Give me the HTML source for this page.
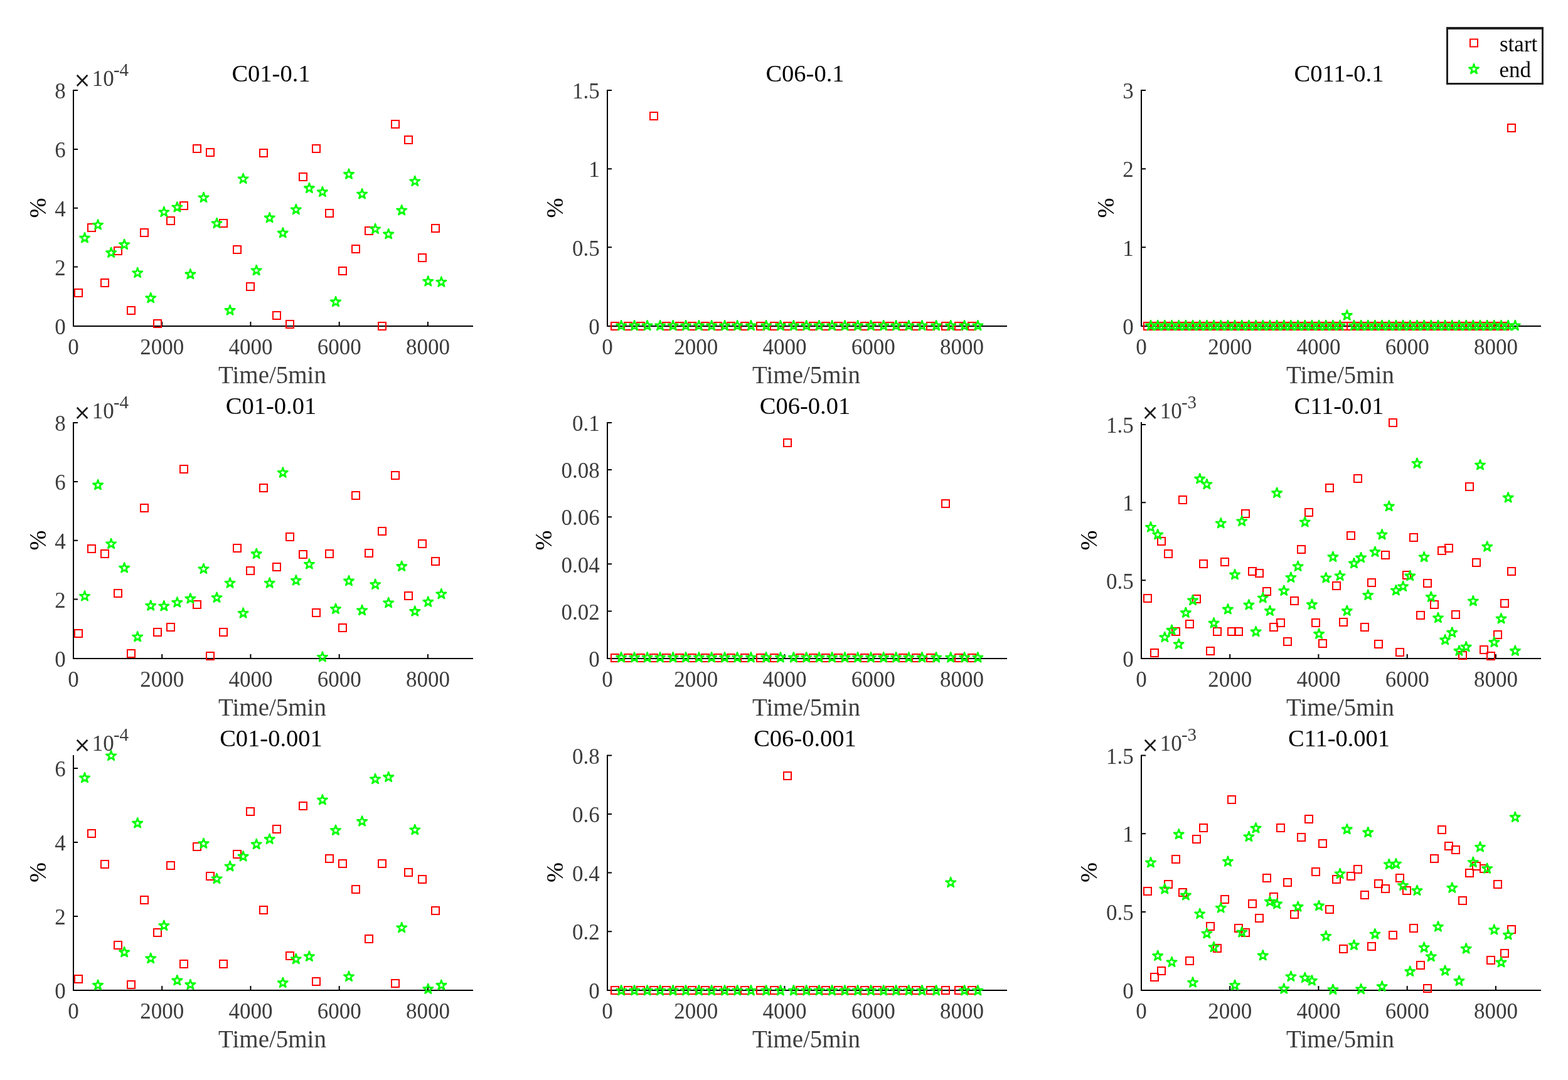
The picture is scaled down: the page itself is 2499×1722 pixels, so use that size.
<!DOCTYPE html>
<html><head><meta charset="utf-8"><title>figure</title>
<style>
html,body{margin:0;padding:0;background:#fff;}
body{width:2499px;height:1722px;overflow:hidden;}
svg{display:block;}
text{font-family:"Liberation Serif", "Times New Roman", serif;}
.tl{font-size:35px;fill:#3c3c3c;}
.ti{font-size:38.5px;fill:#000;}
.xl{font-size:39px;fill:#3c3c3c;}
.yl{font-size:38.5px;fill:#000;}
.lg{font-size:35px;fill:#000;}
.tx{font-family:'DejaVu Sans',sans-serif;font-size:33px;fill:#1a1a1a;}
.sq{fill:none;stroke:#f00;stroke-width:2;}
.st{fill:none;stroke:#0f0;stroke-width:2.6;stroke-linejoin:round;}
</style></head>
<body>
<svg width="2499" height="1722" viewBox="0 0 2499 1722">
<rect width="2499" height="1722" fill="#fff"/>
<path d="M117,143 V521 M116,520 H754" stroke="#000" stroke-width="2" fill="none"/>
<text x="116.9" y="564.5" text-anchor="middle" class="tl">0</text>
<text x="258.2" y="564.5" text-anchor="middle" class="tl">2000</text>
<text x="399.4" y="564.5" text-anchor="middle" class="tl">4000</text>
<text x="540.7" y="564.5" text-anchor="middle" class="tl">6000</text>
<text x="681.9" y="564.5" text-anchor="middle" class="tl">8000</text>
<text x="104.8" y="532.7" text-anchor="end" class="tl">0</text>
<text x="104.8" y="438.8" text-anchor="end" class="tl">2</text>
<text x="104.8" y="344.9" text-anchor="end" class="tl">4</text>
<text x="104.8" y="251.1" text-anchor="end" class="tl">6</text>
<text x="104.8" y="157.2" text-anchor="end" class="tl">8</text>
<path d="M258.2,520 V513 M399.4,520 V513 M540.7,520 V513 M681.9,520 V513 M116,425.6 H124 M116,331.8 H124 M116,237.9 H124 M116,144.0 H124" stroke="#000" stroke-width="2" fill="none"/>
<text x="117.3" y="138.9" class="tx">×</text>
<text x="146.8" y="137.2" class="tl">10</text>
<text x="180.9" y="121" class="tl" style="font-size:29px">-4</text>
<text x="432" y="130.3" text-anchor="middle" class="ti">C01-0.1</text>
<text x="434" y="611" text-anchor="middle" class="xl">Time/5min</text>
<text transform="translate(72.5,331.5) rotate(-90)" text-anchor="middle" class="yl">%</text>
<rect x="119" y="461" width="12" height="12" class="sq"/>
<rect x="140" y="357" width="12" height="12" class="sq"/>
<rect x="161" y="445" width="12" height="12" class="sq"/>
<rect x="182" y="394" width="12" height="12" class="sq"/>
<rect x="203" y="489" width="12" height="12" class="sq"/>
<rect x="224" y="365" width="12" height="12" class="sq"/>
<rect x="245" y="510" width="12" height="12" class="sq"/>
<rect x="266" y="346" width="12" height="12" class="sq"/>
<rect x="287" y="322" width="12" height="12" class="sq"/>
<rect x="308" y="231" width="12" height="12" class="sq"/>
<rect x="329" y="237" width="12" height="12" class="sq"/>
<rect x="350" y="350" width="12" height="12" class="sq"/>
<rect x="372" y="392" width="12" height="12" class="sq"/>
<rect x="393" y="451" width="12" height="12" class="sq"/>
<rect x="414" y="238" width="12" height="12" class="sq"/>
<rect x="435" y="497" width="12" height="12" class="sq"/>
<rect x="456" y="511" width="12" height="12" class="sq"/>
<rect x="477" y="276" width="12" height="12" class="sq"/>
<rect x="498" y="231" width="12" height="12" class="sq"/>
<rect x="519" y="334" width="12" height="12" class="sq"/>
<rect x="540" y="426" width="12" height="12" class="sq"/>
<rect x="561" y="391" width="12" height="12" class="sq"/>
<rect x="582" y="362" width="12" height="12" class="sq"/>
<rect x="603" y="514" width="12" height="12" class="sq"/>
<rect x="624" y="192" width="12" height="12" class="sq"/>
<rect x="645" y="217" width="12" height="12" class="sq"/>
<rect x="667" y="405" width="12" height="12" class="sq"/>
<rect x="688" y="358" width="12" height="12" class="sq"/>
<polygon points="135.0,371.4 136.8,377.0 142.7,377.0 137.9,380.5 139.8,386.1 135.0,382.6 130.2,386.1 132.1,380.5 127.3,377.0 133.2,377.0" class="st"/>
<polygon points="156.1,350.6 157.9,356.2 163.8,356.2 159.0,359.7 160.8,365.3 156.1,361.8 151.3,365.3 153.1,359.7 148.3,356.2 154.2,356.2" class="st"/>
<polygon points="177.1,395.0 178.9,400.6 184.8,400.6 180.0,404.1 181.9,409.7 177.1,406.2 172.3,409.7 174.2,404.1 169.4,400.6 175.3,400.6" class="st"/>
<polygon points="198.2,382.0 200.0,387.6 205.9,387.6 201.1,391.1 202.9,396.7 198.2,393.2 193.4,396.7 195.2,391.1 190.4,387.6 196.3,387.6" class="st"/>
<polygon points="219.2,427.1 221.0,432.7 226.9,432.7 222.1,436.2 224.0,441.8 219.2,438.3 214.4,441.8 216.3,436.2 211.5,432.7 217.4,432.7" class="st"/>
<polygon points="240.2,467.2 242.1,472.8 248.0,472.8 243.2,476.3 245.0,481.9 240.2,478.4 235.5,481.9 237.3,476.3 232.5,472.8 238.4,472.8" class="st"/>
<polygon points="261.3,330.1 263.1,335.7 269.0,335.7 264.2,339.2 266.1,344.8 261.3,341.3 256.5,344.8 258.4,339.2 253.6,335.7 259.5,335.7" class="st"/>
<polygon points="282.4,322.4 284.2,328.0 290.1,328.0 285.3,331.5 287.1,337.1 282.4,333.6 277.6,337.1 279.4,331.5 274.6,328.0 280.5,328.0" class="st"/>
<polygon points="303.4,429.3 305.2,434.9 311.1,434.9 306.3,438.4 308.2,444.0 303.4,440.5 298.6,444.0 300.5,438.4 295.7,434.9 301.6,434.9" class="st"/>
<polygon points="324.5,307.1 326.3,312.7 332.2,312.7 327.4,316.2 329.2,321.8 324.5,318.3 319.7,321.8 321.5,316.2 316.7,312.7 322.6,312.7" class="st"/>
<polygon points="345.5,348.1 347.3,353.7 353.2,353.7 348.4,357.2 350.3,362.8 345.5,359.3 340.7,362.8 342.6,357.2 337.8,353.7 343.7,353.7" class="st"/>
<polygon points="366.6,486.8 368.4,492.4 374.3,492.4 369.5,495.9 371.3,501.5 366.6,498.0 361.8,501.5 363.6,495.9 358.8,492.4 364.7,492.4" class="st"/>
<polygon points="387.6,277.1 389.4,282.7 395.3,282.7 390.5,286.2 392.4,291.8 387.6,288.3 382.8,291.8 384.7,286.2 379.9,282.7 385.8,282.7" class="st"/>
<polygon points="408.7,423.2 410.5,428.8 416.4,428.8 411.6,432.3 413.4,437.9 408.7,434.4 403.9,437.9 405.7,432.3 400.9,428.8 406.8,428.8" class="st"/>
<polygon points="429.7,339.3 431.5,344.9 437.4,344.9 432.6,348.4 434.5,354.0 429.7,350.5 424.9,354.0 426.8,348.4 422.0,344.9 427.9,344.9" class="st"/>
<polygon points="450.8,363.5 452.6,369.1 458.5,369.1 453.7,372.6 455.5,378.2 450.8,374.7 446.0,378.2 447.8,372.6 443.0,369.1 448.9,369.1" class="st"/>
<polygon points="471.8,326.2 473.6,331.8 479.5,331.8 474.7,335.3 476.6,340.9 471.8,337.4 467.0,340.9 468.9,335.3 464.1,331.8 470.0,331.8" class="st"/>
<polygon points="492.9,292.0 494.7,297.6 500.6,297.6 495.8,301.1 497.6,306.7 492.9,303.2 488.1,306.7 489.9,301.1 485.1,297.6 491.0,297.6" class="st"/>
<polygon points="513.9,298.0 515.7,303.6 521.6,303.6 516.8,307.1 518.7,312.7 513.9,309.2 509.1,312.7 511.0,307.1 506.2,303.6 512.1,303.6" class="st"/>
<polygon points="535.0,473.3 536.8,478.9 542.7,478.9 537.9,482.4 539.7,488.0 535.0,484.5 530.2,488.0 532.0,482.4 527.2,478.9 533.1,478.9" class="st"/>
<polygon points="556.0,269.8 557.8,275.4 563.7,275.4 558.9,278.9 560.8,284.5 556.0,281.0 551.2,284.5 553.1,278.9 548.3,275.4 554.2,275.4" class="st"/>
<polygon points="577.1,301.4 578.9,307.0 584.8,307.0 580.0,310.5 581.8,316.1 577.1,312.6 572.3,316.1 574.1,310.5 569.3,307.0 575.2,307.0" class="st"/>
<polygon points="598.1,357.1 599.9,362.7 605.8,362.7 601.0,366.2 602.9,371.8 598.1,368.3 593.3,371.8 595.2,366.2 590.4,362.7 596.3,362.7" class="st"/>
<polygon points="619.2,365.3 621.0,370.9 626.9,370.9 622.1,374.4 623.9,380.0 619.2,376.5 614.4,380.0 616.2,374.4 611.4,370.9 617.3,370.9" class="st"/>
<polygon points="640.2,327.4 642.0,333.0 647.9,333.0 643.1,336.5 645.0,342.1 640.2,338.6 635.4,342.1 637.3,336.5 632.5,333.0 638.4,333.0" class="st"/>
<polygon points="661.2,281.1 663.1,286.7 669.0,286.7 664.2,290.2 666.0,295.8 661.2,292.3 656.5,295.8 658.3,290.2 653.5,286.7 659.4,286.7" class="st"/>
<polygon points="682.3,440.6 684.1,446.2 690.0,446.2 685.2,449.7 687.1,455.3 682.3,451.8 677.5,455.3 679.4,449.7 674.6,446.2 680.5,446.2" class="st"/>
<polygon points="703.4,441.7 705.2,447.3 711.1,447.3 706.3,450.8 708.1,456.4 703.4,452.9 698.6,456.4 700.4,450.8 695.6,447.3 701.5,447.3" class="st"/>
<path d="M968,143 V521 M967,520 H1605" stroke="#000" stroke-width="2" fill="none"/>
<text x="967.9" y="564.5" text-anchor="middle" class="tl">0</text>
<text x="1109.2" y="564.5" text-anchor="middle" class="tl">2000</text>
<text x="1250.4" y="564.5" text-anchor="middle" class="tl">4000</text>
<text x="1391.7" y="564.5" text-anchor="middle" class="tl">6000</text>
<text x="1532.9" y="564.5" text-anchor="middle" class="tl">8000</text>
<text x="955.8" y="532.7" text-anchor="end" class="tl">0</text>
<text x="955.8" y="407.5" text-anchor="end" class="tl">0.5</text>
<text x="955.8" y="282.4" text-anchor="end" class="tl">1</text>
<text x="955.8" y="157.2" text-anchor="end" class="tl">1.5</text>
<path d="M1109.2,520 V513 M1250.4,520 V513 M1391.7,520 V513 M1532.9,520 V513 M967,394.3 H975 M967,269.2 H975 M967,144.0 H975" stroke="#000" stroke-width="2" fill="none"/>
<text x="1283" y="130.3" text-anchor="middle" class="ti">C06-0.1</text>
<text x="1285" y="611" text-anchor="middle" class="xl">Time/5min</text>
<text transform="translate(896.5,331.5) rotate(-90)" text-anchor="middle" class="yl">%</text>
<rect x="974" y="514" width="12" height="12" class="sq"/>
<rect x="995" y="514" width="12" height="12" class="sq"/>
<rect x="1015" y="514" width="12" height="12" class="sq"/>
<rect x="1036" y="179" width="12" height="12" class="sq"/>
<rect x="1056" y="514" width="12" height="12" class="sq"/>
<rect x="1077" y="514" width="12" height="12" class="sq"/>
<rect x="1097" y="514" width="12" height="12" class="sq"/>
<rect x="1118" y="514" width="12" height="12" class="sq"/>
<rect x="1138" y="514" width="12" height="12" class="sq"/>
<rect x="1159" y="514" width="12" height="12" class="sq"/>
<rect x="1181" y="514" width="12" height="12" class="sq"/>
<rect x="1206" y="514" width="12" height="12" class="sq"/>
<rect x="1228" y="514" width="12" height="12" class="sq"/>
<rect x="1249" y="514" width="12" height="12" class="sq"/>
<rect x="1269" y="514" width="12" height="12" class="sq"/>
<rect x="1290" y="514" width="12" height="12" class="sq"/>
<rect x="1310" y="514" width="12" height="12" class="sq"/>
<rect x="1330" y="514" width="12" height="12" class="sq"/>
<rect x="1351" y="514" width="12" height="12" class="sq"/>
<rect x="1372" y="514" width="12" height="12" class="sq"/>
<rect x="1392" y="514" width="12" height="12" class="sq"/>
<rect x="1412" y="514" width="12" height="12" class="sq"/>
<rect x="1433" y="514" width="12" height="12" class="sq"/>
<rect x="1454" y="514" width="12" height="12" class="sq"/>
<rect x="1477" y="514" width="12" height="12" class="sq"/>
<rect x="1501" y="514" width="12" height="12" class="sq"/>
<rect x="1522" y="514" width="12" height="12" class="sq"/>
<rect x="1543" y="514" width="12" height="12" class="sq"/>
<polygon points="990.1,511.3 991.9,516.9 997.8,516.9 993.0,520.4 994.9,526.0 990.1,522.5 985.3,526.0 987.2,520.4 982.4,516.9 988.3,516.9" class="st"/>
<polygon points="1011.1,511.3 1012.9,516.9 1018.8,516.9 1014.0,520.4 1015.9,526.0 1011.1,522.5 1006.3,526.0 1008.2,520.4 1003.4,516.9 1009.3,516.9" class="st"/>
<polygon points="1031.6,511.3 1033.4,516.9 1039.3,516.9 1034.5,520.4 1036.4,526.0 1031.6,522.5 1026.8,526.0 1028.7,520.4 1023.9,516.9 1029.8,516.9" class="st"/>
<polygon points="1052.1,511.3 1053.9,516.9 1059.8,516.9 1055.0,520.4 1056.9,526.0 1052.1,522.5 1047.3,526.0 1049.2,520.4 1044.4,516.9 1050.3,516.9" class="st"/>
<polygon points="1072.6,511.3 1074.4,516.9 1080.3,516.9 1075.5,520.4 1077.4,526.0 1072.6,522.5 1067.8,526.0 1069.7,520.4 1064.9,516.9 1070.8,516.9" class="st"/>
<polygon points="1093.0,511.3 1094.8,516.9 1100.7,516.9 1095.9,520.4 1097.8,526.0 1093.0,522.5 1088.2,526.0 1090.1,520.4 1085.3,516.9 1091.2,516.9" class="st"/>
<polygon points="1113.9,511.3 1115.7,516.9 1121.6,516.9 1116.8,520.4 1118.7,526.0 1113.9,522.5 1109.1,526.0 1111.0,520.4 1106.2,516.9 1112.1,516.9" class="st"/>
<polygon points="1134.1,511.3 1135.9,516.9 1141.8,516.9 1137.0,520.4 1138.9,526.0 1134.1,522.5 1129.3,526.0 1131.2,520.4 1126.4,516.9 1132.3,516.9" class="st"/>
<polygon points="1155.0,511.3 1156.8,516.9 1162.7,516.9 1157.9,520.4 1159.8,526.0 1155.0,522.5 1150.2,526.0 1152.1,520.4 1147.3,516.9 1153.2,516.9" class="st"/>
<polygon points="1175.1,511.3 1176.9,516.9 1182.8,516.9 1178.0,520.4 1179.9,526.0 1175.1,522.5 1170.3,526.0 1172.2,520.4 1167.4,516.9 1173.3,516.9" class="st"/>
<polygon points="1196.9,511.3 1198.7,516.9 1204.6,516.9 1199.8,520.4 1201.7,526.0 1196.9,522.5 1192.1,526.0 1194.0,520.4 1189.2,516.9 1195.1,516.9" class="st"/>
<polygon points="1221.1,511.3 1222.9,516.9 1228.8,516.9 1224.0,520.4 1225.9,526.0 1221.1,522.5 1216.3,526.0 1218.2,520.4 1213.4,516.9 1219.3,516.9" class="st"/>
<polygon points="1243.9,511.3 1245.7,516.9 1251.6,516.9 1246.8,520.4 1248.7,526.0 1243.9,522.5 1239.1,526.0 1241.0,520.4 1236.2,516.9 1242.1,516.9" class="st"/>
<polygon points="1264.8,511.3 1266.6,516.9 1272.5,516.9 1267.7,520.4 1269.6,526.0 1264.8,522.5 1260.0,526.0 1261.9,520.4 1257.1,516.9 1263.0,516.9" class="st"/>
<polygon points="1285.2,511.3 1287.0,516.9 1292.9,516.9 1288.1,520.4 1290.0,526.0 1285.2,522.5 1280.4,526.0 1282.3,520.4 1277.5,516.9 1283.4,516.9" class="st"/>
<polygon points="1305.5,511.3 1307.3,516.9 1313.2,516.9 1308.4,520.4 1310.3,526.0 1305.5,522.5 1300.7,526.0 1302.6,520.4 1297.8,516.9 1303.7,516.9" class="st"/>
<polygon points="1326.1,511.3 1327.9,516.9 1333.8,516.9 1329.0,520.4 1330.9,526.0 1326.1,522.5 1321.3,526.0 1323.2,520.4 1318.4,516.9 1324.3,516.9" class="st"/>
<polygon points="1346.5,511.3 1348.3,516.9 1354.2,516.9 1349.4,520.4 1351.3,526.0 1346.5,522.5 1341.7,526.0 1343.6,520.4 1338.8,516.9 1344.7,516.9" class="st"/>
<polygon points="1367.0,511.3 1368.8,516.9 1374.7,516.9 1369.9,520.4 1371.8,526.0 1367.0,522.5 1362.2,526.0 1364.1,520.4 1359.3,516.9 1365.2,516.9" class="st"/>
<polygon points="1388.0,511.3 1389.8,516.9 1395.7,516.9 1390.9,520.4 1392.8,526.0 1388.0,522.5 1383.2,526.0 1385.1,520.4 1380.3,516.9 1386.2,516.9" class="st"/>
<polygon points="1408.2,511.3 1410.0,516.9 1415.9,516.9 1411.1,520.4 1413.0,526.0 1408.2,522.5 1403.4,526.0 1405.3,520.4 1400.5,516.9 1406.4,516.9" class="st"/>
<polygon points="1428.1,511.3 1429.9,516.9 1435.8,516.9 1431.0,520.4 1432.9,526.0 1428.1,522.5 1423.3,526.0 1425.2,520.4 1420.4,516.9 1426.3,516.9" class="st"/>
<polygon points="1448.4,511.3 1450.2,516.9 1456.1,516.9 1451.3,520.4 1453.2,526.0 1448.4,522.5 1443.6,526.0 1445.5,520.4 1440.7,516.9 1446.6,516.9" class="st"/>
<polygon points="1469.5,511.3 1471.3,516.9 1477.2,516.9 1472.4,520.4 1474.3,526.0 1469.5,522.5 1464.7,526.0 1466.6,520.4 1461.8,516.9 1467.7,516.9" class="st"/>
<polygon points="1492.1,511.3 1493.9,516.9 1499.8,516.9 1495.0,520.4 1496.9,526.0 1492.1,522.5 1487.3,526.0 1489.2,520.4 1484.4,516.9 1490.3,516.9" class="st"/>
<polygon points="1515.2,511.3 1517.0,516.9 1522.9,516.9 1518.1,520.4 1520.0,526.0 1515.2,522.5 1510.4,526.0 1512.3,520.4 1507.5,516.9 1513.4,516.9" class="st"/>
<polygon points="1537.1,511.3 1538.9,516.9 1544.8,516.9 1540.0,520.4 1541.9,526.0 1537.1,522.5 1532.3,526.0 1534.2,520.4 1529.4,516.9 1535.3,516.9" class="st"/>
<polygon points="1558.4,511.3 1560.2,516.9 1566.1,516.9 1561.3,520.4 1563.2,526.0 1558.4,522.5 1553.6,526.0 1555.5,520.4 1550.7,516.9 1556.6,516.9" class="st"/>
<path d="M1819,143 V521 M1818,520 H2456" stroke="#000" stroke-width="2" fill="none"/>
<text x="1818.9" y="564.5" text-anchor="middle" class="tl">0</text>
<text x="1960.2" y="564.5" text-anchor="middle" class="tl">2000</text>
<text x="2101.4" y="564.5" text-anchor="middle" class="tl">4000</text>
<text x="2242.7" y="564.5" text-anchor="middle" class="tl">6000</text>
<text x="2383.9" y="564.5" text-anchor="middle" class="tl">8000</text>
<text x="1806.8" y="532.7" text-anchor="end" class="tl">0</text>
<text x="1806.8" y="407.5" text-anchor="end" class="tl">1</text>
<text x="1806.8" y="282.4" text-anchor="end" class="tl">2</text>
<text x="1806.8" y="157.2" text-anchor="end" class="tl">3</text>
<path d="M1960.2,520 V513 M2101.4,520 V513 M2242.7,520 V513 M2383.9,520 V513 M1818,394.3 H1826 M1818,269.2 H1826 M1818,144.0 H1826" stroke="#000" stroke-width="2" fill="none"/>
<text x="2134" y="130.3" text-anchor="middle" class="ti">C011-0.1</text>
<text x="2136" y="611" text-anchor="middle" class="xl">Time/5min</text>
<text transform="translate(1774.5,331.5) rotate(-90)" text-anchor="middle" class="yl">%</text>
<rect x="1823" y="514" width="12" height="12" class="sq"/>
<rect x="1834" y="514" width="12" height="12" class="sq"/>
<rect x="1845" y="514" width="12" height="12" class="sq"/>
<rect x="1856" y="514" width="12" height="12" class="sq"/>
<rect x="1868" y="514" width="12" height="12" class="sq"/>
<rect x="1879" y="514" width="12" height="12" class="sq"/>
<rect x="1890" y="514" width="12" height="12" class="sq"/>
<rect x="1901" y="514" width="12" height="12" class="sq"/>
<rect x="1912" y="514" width="12" height="12" class="sq"/>
<rect x="1923" y="514" width="12" height="12" class="sq"/>
<rect x="1934" y="514" width="12" height="12" class="sq"/>
<rect x="1946" y="514" width="12" height="12" class="sq"/>
<rect x="1957" y="514" width="12" height="12" class="sq"/>
<rect x="1968" y="514" width="12" height="12" class="sq"/>
<rect x="1979" y="514" width="12" height="12" class="sq"/>
<rect x="1990" y="514" width="12" height="12" class="sq"/>
<rect x="2001" y="514" width="12" height="12" class="sq"/>
<rect x="2013" y="514" width="12" height="12" class="sq"/>
<rect x="2024" y="514" width="12" height="12" class="sq"/>
<rect x="2035" y="514" width="12" height="12" class="sq"/>
<rect x="2046" y="514" width="12" height="12" class="sq"/>
<rect x="2057" y="514" width="12" height="12" class="sq"/>
<rect x="2068" y="514" width="12" height="12" class="sq"/>
<rect x="2080" y="514" width="12" height="12" class="sq"/>
<rect x="2091" y="514" width="12" height="12" class="sq"/>
<rect x="2102" y="514" width="12" height="12" class="sq"/>
<rect x="2113" y="514" width="12" height="12" class="sq"/>
<rect x="2124" y="514" width="12" height="12" class="sq"/>
<rect x="2135" y="514" width="12" height="12" class="sq"/>
<rect x="2147" y="514" width="12" height="12" class="sq"/>
<rect x="2158" y="514" width="12" height="12" class="sq"/>
<rect x="2169" y="514" width="12" height="12" class="sq"/>
<rect x="2180" y="514" width="12" height="12" class="sq"/>
<rect x="2191" y="514" width="12" height="12" class="sq"/>
<rect x="2202" y="514" width="12" height="12" class="sq"/>
<rect x="2214" y="514" width="12" height="12" class="sq"/>
<rect x="2225" y="514" width="12" height="12" class="sq"/>
<rect x="2236" y="514" width="12" height="12" class="sq"/>
<rect x="2247" y="514" width="12" height="12" class="sq"/>
<rect x="2258" y="514" width="12" height="12" class="sq"/>
<rect x="2269" y="514" width="12" height="12" class="sq"/>
<rect x="2280" y="514" width="12" height="12" class="sq"/>
<rect x="2292" y="514" width="12" height="12" class="sq"/>
<rect x="2303" y="514" width="12" height="12" class="sq"/>
<rect x="2314" y="514" width="12" height="12" class="sq"/>
<rect x="2325" y="514" width="12" height="12" class="sq"/>
<rect x="2336" y="514" width="12" height="12" class="sq"/>
<rect x="2347" y="514" width="12" height="12" class="sq"/>
<rect x="2359" y="514" width="12" height="12" class="sq"/>
<rect x="2370" y="514" width="12" height="12" class="sq"/>
<rect x="2381" y="514" width="12" height="12" class="sq"/>
<rect x="2392" y="514" width="12" height="12" class="sq"/>
<rect x="2403" y="198" width="12" height="12" class="sq"/>
<polygon points="1834.0,511.2 1835.8,516.8 1841.7,516.8 1836.9,520.3 1838.8,525.9 1834.0,522.4 1829.2,525.9 1831.1,520.3 1826.3,516.8 1832.2,516.8" class="st"/>
<polygon points="1845.2,511.2 1847.0,516.8 1852.9,516.8 1848.1,520.3 1849.9,525.9 1845.2,522.4 1840.4,525.9 1842.2,520.3 1837.5,516.8 1843.4,516.8" class="st"/>
<polygon points="1856.3,511.2 1858.2,516.8 1864.0,516.8 1859.3,520.3 1861.1,525.9 1856.3,522.4 1851.6,525.9 1853.4,520.3 1848.6,516.8 1854.5,516.8" class="st"/>
<polygon points="1867.5,511.2 1869.3,516.8 1875.2,516.8 1870.5,520.3 1872.3,525.9 1867.5,522.4 1862.7,525.9 1864.6,520.3 1859.8,516.8 1865.7,516.8" class="st"/>
<polygon points="1878.7,511.2 1880.5,516.8 1886.4,516.8 1881.6,520.3 1883.4,525.9 1878.7,522.4 1873.9,525.9 1875.7,520.3 1871.0,516.8 1876.9,516.8" class="st"/>
<polygon points="1889.8,511.2 1891.7,516.8 1897.6,516.8 1892.8,520.3 1894.6,525.9 1889.8,522.4 1885.1,525.9 1886.9,520.3 1882.1,516.8 1888.0,516.8" class="st"/>
<polygon points="1901.0,511.2 1902.8,516.8 1908.7,516.8 1904.0,520.3 1905.8,525.9 1901.0,522.4 1896.3,525.9 1898.1,520.3 1893.3,516.8 1899.2,516.8" class="st"/>
<polygon points="1912.2,511.2 1914.0,516.8 1919.9,516.8 1915.1,520.3 1917.0,525.9 1912.2,522.4 1907.4,525.9 1909.2,520.3 1904.5,516.8 1910.4,516.8" class="st"/>
<polygon points="1923.4,511.2 1925.2,516.8 1931.1,516.8 1926.3,520.3 1928.1,525.9 1923.4,522.4 1918.6,525.9 1920.4,520.3 1915.7,516.8 1921.5,516.8" class="st"/>
<polygon points="1934.5,511.2 1936.3,516.8 1942.2,516.8 1937.5,520.3 1939.3,525.9 1934.5,522.4 1929.8,525.9 1931.6,520.3 1926.8,516.8 1932.7,516.8" class="st"/>
<polygon points="1945.7,511.2 1947.5,516.8 1953.4,516.8 1948.6,520.3 1950.5,525.9 1945.7,522.4 1940.9,525.9 1942.8,520.3 1938.0,516.8 1943.9,516.8" class="st"/>
<polygon points="1956.9,511.2 1958.7,516.8 1964.6,516.8 1959.8,520.3 1961.6,525.9 1956.9,522.4 1952.1,525.9 1953.9,520.3 1949.2,516.8 1955.1,516.8" class="st"/>
<polygon points="1968.0,511.2 1969.9,516.8 1975.7,516.8 1971.0,520.3 1972.8,525.9 1968.0,522.4 1963.3,525.9 1965.1,520.3 1960.3,516.8 1966.2,516.8" class="st"/>
<polygon points="1979.2,511.2 1981.0,516.8 1986.9,516.8 1982.2,520.3 1984.0,525.9 1979.2,522.4 1974.4,525.9 1976.3,520.3 1971.5,516.8 1977.4,516.8" class="st"/>
<polygon points="1990.4,511.2 1992.2,516.8 1998.1,516.8 1993.3,520.3 1995.1,525.9 1990.4,522.4 1985.6,525.9 1987.4,520.3 1982.7,516.8 1988.6,516.8" class="st"/>
<polygon points="2001.5,511.2 2003.4,516.8 2009.3,516.8 2004.5,520.3 2006.3,525.9 2001.5,522.4 1996.8,525.9 1998.6,520.3 1993.8,516.8 1999.7,516.8" class="st"/>
<polygon points="2012.7,511.2 2014.5,516.8 2020.4,516.8 2015.7,520.3 2017.5,525.9 2012.7,522.4 2008.0,525.9 2009.8,520.3 2005.0,516.8 2010.9,516.8" class="st"/>
<polygon points="2023.9,511.2 2025.7,516.8 2031.6,516.8 2026.8,520.3 2028.7,525.9 2023.9,522.4 2019.1,525.9 2020.9,520.3 2016.2,516.8 2022.1,516.8" class="st"/>
<polygon points="2035.1,511.2 2036.9,516.8 2042.8,516.8 2038.0,520.3 2039.8,525.9 2035.1,522.4 2030.3,525.9 2032.1,520.3 2027.4,516.8 2033.2,516.8" class="st"/>
<polygon points="2046.2,511.2 2048.0,516.8 2053.9,516.8 2049.2,520.3 2051.0,525.9 2046.2,522.4 2041.5,525.9 2043.3,520.3 2038.5,516.8 2044.4,516.8" class="st"/>
<polygon points="2057.4,511.2 2059.2,516.8 2065.1,516.8 2060.3,520.3 2062.2,525.9 2057.4,522.4 2052.6,525.9 2054.5,520.3 2049.7,516.8 2055.6,516.8" class="st"/>
<polygon points="2068.6,511.2 2070.4,516.8 2076.3,516.8 2071.5,520.3 2073.3,525.9 2068.6,522.4 2063.8,525.9 2065.6,520.3 2060.9,516.8 2066.8,516.8" class="st"/>
<polygon points="2079.7,511.2 2081.6,516.8 2087.4,516.8 2082.7,520.3 2084.5,525.9 2079.7,522.4 2075.0,525.9 2076.8,520.3 2072.0,516.8 2077.9,516.8" class="st"/>
<polygon points="2090.9,511.2 2092.7,516.8 2098.6,516.8 2093.9,520.3 2095.7,525.9 2090.9,522.4 2086.1,525.9 2088.0,520.3 2083.2,516.8 2089.1,516.8" class="st"/>
<polygon points="2102.1,511.2 2103.9,516.8 2109.8,516.8 2105.0,520.3 2106.8,525.9 2102.1,522.4 2097.3,525.9 2099.1,520.3 2094.4,516.8 2100.3,516.8" class="st"/>
<polygon points="2113.2,511.2 2115.1,516.8 2121.0,516.8 2116.2,520.3 2118.0,525.9 2113.2,522.4 2108.5,525.9 2110.3,520.3 2105.5,516.8 2111.4,516.8" class="st"/>
<polygon points="2124.4,511.2 2126.2,516.8 2132.1,516.8 2127.4,520.3 2129.2,525.9 2124.4,522.4 2119.7,525.9 2121.5,520.3 2116.7,516.8 2122.6,516.8" class="st"/>
<polygon points="2135.6,511.2 2137.4,516.8 2143.3,516.8 2138.5,520.3 2140.4,525.9 2135.6,522.4 2130.8,525.9 2132.6,520.3 2127.9,516.8 2133.8,516.8" class="st"/>
<polygon points="2146.8,494.8 2148.6,500.4 2154.5,500.4 2149.7,503.9 2151.5,509.5 2146.8,506.0 2142.0,509.5 2143.8,503.9 2139.1,500.4 2144.9,500.4" class="st"/>
<polygon points="2157.9,511.2 2159.7,516.8 2165.6,516.8 2160.9,520.3 2162.7,525.9 2157.9,522.4 2153.2,525.9 2155.0,520.3 2150.2,516.8 2156.1,516.8" class="st"/>
<polygon points="2169.1,511.2 2170.9,516.8 2176.8,516.8 2172.0,520.3 2173.9,525.9 2169.1,522.4 2164.3,525.9 2166.2,520.3 2161.4,516.8 2167.3,516.8" class="st"/>
<polygon points="2180.3,511.2 2182.1,516.8 2188.0,516.8 2183.2,520.3 2185.0,525.9 2180.3,522.4 2175.5,525.9 2177.3,520.3 2172.6,516.8 2178.5,516.8" class="st"/>
<polygon points="2191.4,511.2 2193.3,516.8 2199.1,516.8 2194.4,520.3 2196.2,525.9 2191.4,522.4 2186.7,525.9 2188.5,520.3 2183.7,516.8 2189.6,516.8" class="st"/>
<polygon points="2202.6,511.2 2204.4,516.8 2210.3,516.8 2205.6,520.3 2207.4,525.9 2202.6,522.4 2197.8,525.9 2199.7,520.3 2194.9,516.8 2200.8,516.8" class="st"/>
<polygon points="2213.8,511.2 2215.6,516.8 2221.5,516.8 2216.7,520.3 2218.5,525.9 2213.8,522.4 2209.0,525.9 2210.8,520.3 2206.1,516.8 2212.0,516.8" class="st"/>
<polygon points="2224.9,511.2 2226.8,516.8 2232.7,516.8 2227.9,520.3 2229.7,525.9 2224.9,522.4 2220.2,525.9 2222.0,520.3 2217.2,516.8 2223.1,516.8" class="st"/>
<polygon points="2236.1,511.2 2237.9,516.8 2243.8,516.8 2239.1,520.3 2240.9,525.9 2236.1,522.4 2231.4,525.9 2233.2,520.3 2228.4,516.8 2234.3,516.8" class="st"/>
<polygon points="2247.3,511.2 2249.1,516.8 2255.0,516.8 2250.2,520.3 2252.1,525.9 2247.3,522.4 2242.5,525.9 2244.3,520.3 2239.6,516.8 2245.5,516.8" class="st"/>
<polygon points="2258.5,511.2 2260.3,516.8 2266.2,516.8 2261.4,520.3 2263.2,525.9 2258.5,522.4 2253.7,525.9 2255.5,520.3 2250.8,516.8 2256.6,516.8" class="st"/>
<polygon points="2269.6,511.2 2271.4,516.8 2277.3,516.8 2272.6,520.3 2274.4,525.9 2269.6,522.4 2264.9,525.9 2266.7,520.3 2261.9,516.8 2267.8,516.8" class="st"/>
<polygon points="2280.8,511.2 2282.6,516.8 2288.5,516.8 2283.7,520.3 2285.6,525.9 2280.8,522.4 2276.0,525.9 2277.9,520.3 2273.1,516.8 2279.0,516.8" class="st"/>
<polygon points="2292.0,511.2 2293.8,516.8 2299.7,516.8 2294.9,520.3 2296.7,525.9 2292.0,522.4 2287.2,525.9 2289.0,520.3 2284.3,516.8 2290.2,516.8" class="st"/>
<polygon points="2303.1,511.2 2305.0,516.8 2310.8,516.8 2306.1,520.3 2307.9,525.9 2303.1,522.4 2298.4,525.9 2300.2,520.3 2295.4,516.8 2301.3,516.8" class="st"/>
<polygon points="2314.3,511.2 2316.1,516.8 2322.0,516.8 2317.3,520.3 2319.1,525.9 2314.3,522.4 2309.5,525.9 2311.4,520.3 2306.6,516.8 2312.5,516.8" class="st"/>
<polygon points="2325.5,511.2 2327.3,516.8 2333.2,516.8 2328.4,520.3 2330.2,525.9 2325.5,522.4 2320.7,525.9 2322.5,520.3 2317.8,516.8 2323.7,516.8" class="st"/>
<polygon points="2336.7,511.2 2338.5,516.8 2344.4,516.8 2339.6,520.3 2341.4,525.9 2336.7,522.4 2331.9,525.9 2333.7,520.3 2328.9,516.8 2334.8,516.8" class="st"/>
<polygon points="2347.8,511.2 2349.6,516.8 2355.5,516.8 2350.8,520.3 2352.6,525.9 2347.8,522.4 2343.1,525.9 2344.9,520.3 2340.1,516.8 2346.0,516.8" class="st"/>
<polygon points="2359.0,511.2 2360.8,516.8 2366.7,516.8 2361.9,520.3 2363.8,525.9 2359.0,522.4 2354.2,525.9 2356.0,520.3 2351.3,516.8 2357.2,516.8" class="st"/>
<polygon points="2370.2,511.2 2372.0,516.8 2377.9,516.8 2373.1,520.3 2374.9,525.9 2370.2,522.4 2365.4,525.9 2367.2,520.3 2362.5,516.8 2368.3,516.8" class="st"/>
<polygon points="2381.3,511.2 2383.1,516.8 2389.0,516.8 2384.3,520.3 2386.1,525.9 2381.3,522.4 2376.6,525.9 2378.4,520.3 2373.6,516.8 2379.5,516.8" class="st"/>
<polygon points="2392.5,511.2 2394.3,516.8 2400.2,516.8 2395.4,520.3 2397.3,525.9 2392.5,522.4 2387.7,525.9 2389.6,520.3 2384.8,516.8 2390.7,516.8" class="st"/>
<polygon points="2403.7,511.2 2405.5,516.8 2411.4,516.8 2406.6,520.3 2408.4,525.9 2403.7,522.4 2398.9,525.9 2400.7,520.3 2396.0,516.8 2401.9,516.8" class="st"/>
<polygon points="2414.8,511.2 2416.7,516.8 2422.5,516.8 2417.8,520.3 2419.6,525.9 2414.8,522.4 2410.1,525.9 2411.9,520.3 2407.1,516.8 2413.0,516.8" class="st"/>
<path d="M117,673 V1051 M116,1050 H754" stroke="#000" stroke-width="2" fill="none"/>
<text x="116.9" y="1094.5" text-anchor="middle" class="tl">0</text>
<text x="258.2" y="1094.5" text-anchor="middle" class="tl">2000</text>
<text x="399.4" y="1094.5" text-anchor="middle" class="tl">4000</text>
<text x="540.7" y="1094.5" text-anchor="middle" class="tl">6000</text>
<text x="681.9" y="1094.5" text-anchor="middle" class="tl">8000</text>
<text x="104.8" y="1062.7" text-anchor="end" class="tl">0</text>
<text x="104.8" y="968.8" text-anchor="end" class="tl">2</text>
<text x="104.8" y="875.0" text-anchor="end" class="tl">4</text>
<text x="104.8" y="781.1" text-anchor="end" class="tl">6</text>
<text x="104.8" y="687.2" text-anchor="end" class="tl">8</text>
<path d="M258.2,1050 V1043 M399.4,1050 V1043 M540.7,1050 V1043 M681.9,1050 V1043 M116,955.6 H124 M116,861.8 H124 M116,767.9 H124 M116,674.0 H124" stroke="#000" stroke-width="2" fill="none"/>
<text x="117.3" y="668.9" class="tx">×</text>
<text x="146.8" y="667.2" class="tl">10</text>
<text x="180.9" y="651" class="tl" style="font-size:29px">-4</text>
<text x="432" y="660.3" text-anchor="middle" class="ti">C01-0.01</text>
<text x="434" y="1141" text-anchor="middle" class="xl">Time/5min</text>
<text transform="translate(72.5,861.5) rotate(-90)" text-anchor="middle" class="yl">%</text>
<rect x="119" y="1004" width="12" height="12" class="sq"/>
<rect x="140" y="869" width="12" height="12" class="sq"/>
<rect x="161" y="877" width="12" height="12" class="sq"/>
<rect x="182" y="940" width="12" height="12" class="sq"/>
<rect x="203" y="1036" width="12" height="12" class="sq"/>
<rect x="224" y="804" width="12" height="12" class="sq"/>
<rect x="245" y="1002" width="12" height="12" class="sq"/>
<rect x="266" y="994" width="12" height="12" class="sq"/>
<rect x="287" y="742" width="12" height="12" class="sq"/>
<rect x="308" y="958" width="12" height="12" class="sq"/>
<rect x="329" y="1040" width="12" height="12" class="sq"/>
<rect x="350" y="1002" width="12" height="12" class="sq"/>
<rect x="372" y="868" width="12" height="12" class="sq"/>
<rect x="393" y="904" width="12" height="12" class="sq"/>
<rect x="414" y="772" width="12" height="12" class="sq"/>
<rect x="435" y="898" width="12" height="12" class="sq"/>
<rect x="456" y="850" width="12" height="12" class="sq"/>
<rect x="477" y="878" width="12" height="12" class="sq"/>
<rect x="498" y="971" width="12" height="12" class="sq"/>
<rect x="519" y="877" width="12" height="12" class="sq"/>
<rect x="540" y="995" width="12" height="12" class="sq"/>
<rect x="561" y="784" width="12" height="12" class="sq"/>
<rect x="582" y="876" width="12" height="12" class="sq"/>
<rect x="603" y="841" width="12" height="12" class="sq"/>
<rect x="624" y="752" width="12" height="12" class="sq"/>
<rect x="645" y="944" width="12" height="12" class="sq"/>
<rect x="667" y="861" width="12" height="12" class="sq"/>
<rect x="688" y="889" width="12" height="12" class="sq"/>
<polygon points="135.0,942.6 136.8,948.2 142.7,948.2 137.9,951.7 139.8,957.3 135.0,953.8 130.2,957.3 132.1,951.7 127.3,948.2 133.2,948.2" class="st"/>
<polygon points="156.1,765.3 157.9,770.9 163.8,770.9 159.0,774.4 160.8,780.0 156.1,776.5 151.3,780.0 153.1,774.4 148.3,770.9 154.2,770.9" class="st"/>
<polygon points="177.1,859.2 178.9,864.8 184.8,864.8 180.0,868.3 181.9,873.9 177.1,870.4 172.3,873.9 174.2,868.3 169.4,864.8 175.3,864.8" class="st"/>
<polygon points="198.2,897.5 200.0,903.1 205.9,903.1 201.1,906.6 202.9,912.2 198.2,908.7 193.4,912.2 195.2,906.6 190.4,903.1 196.3,903.1" class="st"/>
<polygon points="219.2,1007.4 221.0,1013.0 226.9,1013.0 222.1,1016.5 224.0,1022.1 219.2,1018.6 214.4,1022.1 216.3,1016.5 211.5,1013.0 217.4,1013.0" class="st"/>
<polygon points="240.2,957.7 242.1,963.3 248.0,963.3 243.2,966.8 245.0,972.4 240.2,968.9 235.5,972.4 237.3,966.8 232.5,963.3 238.4,963.3" class="st"/>
<polygon points="261.3,958.4 263.1,964.0 269.0,964.0 264.2,967.5 266.1,973.1 261.3,969.6 256.5,973.1 258.4,967.5 253.6,964.0 259.5,964.0" class="st"/>
<polygon points="282.4,952.6 284.2,958.2 290.1,958.2 285.3,961.7 287.1,967.3 282.4,963.8 277.6,967.3 279.4,961.7 274.6,958.2 280.5,958.2" class="st"/>
<polygon points="303.4,946.5 305.2,952.1 311.1,952.1 306.3,955.6 308.2,961.2 303.4,957.7 298.6,961.2 300.5,955.6 295.7,952.1 301.6,952.1" class="st"/>
<polygon points="324.5,899.1 326.3,904.7 332.2,904.7 327.4,908.2 329.2,913.8 324.5,910.3 319.7,913.8 321.5,908.2 316.7,904.7 322.6,904.7" class="st"/>
<polygon points="345.5,944.9 347.3,950.5 353.2,950.5 348.4,954.0 350.3,959.6 345.5,956.1 340.7,959.6 342.6,954.0 337.8,950.5 343.7,950.5" class="st"/>
<polygon points="366.6,921.7 368.4,927.3 374.3,927.3 369.5,930.8 371.3,936.4 366.6,932.9 361.8,936.4 363.6,930.8 358.8,927.3 364.7,927.3" class="st"/>
<polygon points="387.6,969.7 389.4,975.3 395.3,975.3 390.5,978.8 392.4,984.4 387.6,980.9 382.8,984.4 384.7,978.8 379.9,975.3 385.8,975.3" class="st"/>
<polygon points="408.7,875.0 410.5,880.6 416.4,880.6 411.6,884.1 413.4,889.7 408.7,886.2 403.9,889.7 405.7,884.1 400.9,880.6 406.8,880.6" class="st"/>
<polygon points="429.7,921.7 431.5,927.3 437.4,927.3 432.6,930.8 434.5,936.4 429.7,932.9 424.9,936.4 426.8,930.8 422.0,927.3 427.9,927.3" class="st"/>
<polygon points="450.8,745.7 452.6,751.3 458.5,751.3 453.7,754.8 455.5,760.4 450.8,756.9 446.0,760.4 447.8,754.8 443.0,751.3 448.9,751.3" class="st"/>
<polygon points="471.8,917.6 473.6,923.2 479.5,923.2 474.7,926.7 476.6,932.3 471.8,928.8 467.0,932.3 468.9,926.7 464.1,923.2 470.0,923.2" class="st"/>
<polygon points="492.9,891.6 494.7,897.2 500.6,897.2 495.8,900.7 497.6,906.3 492.9,902.8 488.1,906.3 489.9,900.7 485.1,897.2 491.0,897.2" class="st"/>
<polygon points="513.9,1039.6 515.7,1045.2 521.6,1045.2 516.8,1048.7 518.7,1054.3 513.9,1050.8 509.1,1054.3 511.0,1048.7 506.2,1045.2 512.1,1045.2" class="st"/>
<polygon points="535.0,962.9 536.8,968.5 542.7,968.5 537.9,972.0 539.7,977.6 535.0,974.1 530.2,977.6 532.0,972.0 527.2,968.5 533.1,968.5" class="st"/>
<polygon points="556.0,918.3 557.8,923.9 563.7,923.9 558.9,927.4 560.8,933.0 556.0,929.5 551.2,933.0 553.1,927.4 548.3,923.9 554.2,923.9" class="st"/>
<polygon points="577.1,965.2 578.9,970.8 584.8,970.8 580.0,974.3 581.8,979.9 577.1,976.4 572.3,979.9 574.1,974.3 569.3,970.8 575.2,970.8" class="st"/>
<polygon points="598.1,923.9 599.9,929.5 605.8,929.5 601.0,933.0 602.9,938.6 598.1,935.1 593.3,938.6 595.2,933.0 590.4,929.5 596.3,929.5" class="st"/>
<polygon points="619.2,953.2 621.0,958.8 626.9,958.8 622.1,962.3 623.9,967.9 619.2,964.4 614.4,967.9 616.2,962.3 611.4,958.8 617.3,958.8" class="st"/>
<polygon points="640.2,895.0 642.0,900.6 647.9,900.6 643.1,904.1 645.0,909.7 640.2,906.2 635.4,909.7 637.3,904.1 632.5,900.6 638.4,900.6" class="st"/>
<polygon points="661.2,966.8 663.1,972.4 669.0,972.4 664.2,975.9 666.0,981.5 661.2,978.0 656.5,981.5 658.3,975.9 653.5,972.4 659.4,972.4" class="st"/>
<polygon points="682.3,951.7 684.1,957.3 690.0,957.3 685.2,960.8 687.1,966.4 682.3,962.9 677.5,966.4 679.4,960.8 674.6,957.3 680.5,957.3" class="st"/>
<polygon points="703.4,939.2 705.2,944.8 711.1,944.8 706.3,948.3 708.1,953.9 703.4,950.4 698.6,953.9 700.4,948.3 695.6,944.8 701.5,944.8" class="st"/>
<path d="M968,673 V1051 M967,1050 H1605" stroke="#000" stroke-width="2" fill="none"/>
<text x="967.9" y="1094.5" text-anchor="middle" class="tl">0</text>
<text x="1109.2" y="1094.5" text-anchor="middle" class="tl">2000</text>
<text x="1250.4" y="1094.5" text-anchor="middle" class="tl">4000</text>
<text x="1391.7" y="1094.5" text-anchor="middle" class="tl">6000</text>
<text x="1532.9" y="1094.5" text-anchor="middle" class="tl">8000</text>
<text x="955.8" y="1062.7" text-anchor="end" class="tl">0</text>
<text x="955.8" y="987.6" text-anchor="end" class="tl">0.02</text>
<text x="955.8" y="912.5" text-anchor="end" class="tl">0.04</text>
<text x="955.8" y="837.4" text-anchor="end" class="tl">0.06</text>
<text x="955.8" y="762.3" text-anchor="end" class="tl">0.08</text>
<text x="955.8" y="687.2" text-anchor="end" class="tl">0.1</text>
<path d="M1109.2,1050 V1043 M1250.4,1050 V1043 M1391.7,1050 V1043 M1532.9,1050 V1043 M967,974.4 H975 M967,899.3 H975 M967,824.2 H975 M967,749.1 H975 M967,674.0 H975" stroke="#000" stroke-width="2" fill="none"/>
<text x="1283" y="660.3" text-anchor="middle" class="ti">C06-0.01</text>
<text x="1285" y="1141" text-anchor="middle" class="xl">Time/5min</text>
<text transform="translate(879.3,861.5) rotate(-90)" text-anchor="middle" class="yl">%</text>
<rect x="974" y="1043" width="12" height="12" class="sq"/>
<rect x="995" y="1043" width="12" height="12" class="sq"/>
<rect x="1015" y="1043" width="12" height="12" class="sq"/>
<rect x="1036" y="1043" width="12" height="12" class="sq"/>
<rect x="1056" y="1043" width="12" height="12" class="sq"/>
<rect x="1077" y="1043" width="12" height="12" class="sq"/>
<rect x="1097" y="1043" width="12" height="12" class="sq"/>
<rect x="1118" y="1043" width="12" height="12" class="sq"/>
<rect x="1138" y="1043" width="12" height="12" class="sq"/>
<rect x="1159" y="1043" width="12" height="12" class="sq"/>
<rect x="1181" y="1043" width="12" height="12" class="sq"/>
<rect x="1206" y="1043" width="12" height="12" class="sq"/>
<rect x="1228" y="1043" width="12" height="12" class="sq"/>
<rect x="1249" y="700" width="12" height="12" class="sq"/>
<rect x="1269" y="1043" width="12" height="12" class="sq"/>
<rect x="1290" y="1043" width="12" height="12" class="sq"/>
<rect x="1310" y="1043" width="12" height="12" class="sq"/>
<rect x="1330" y="1043" width="12" height="12" class="sq"/>
<rect x="1351" y="1043" width="12" height="12" class="sq"/>
<rect x="1372" y="1043" width="12" height="12" class="sq"/>
<rect x="1392" y="1043" width="12" height="12" class="sq"/>
<rect x="1412" y="1043" width="12" height="12" class="sq"/>
<rect x="1433" y="1043" width="12" height="12" class="sq"/>
<rect x="1454" y="1043" width="12" height="12" class="sq"/>
<rect x="1477" y="1043" width="12" height="12" class="sq"/>
<rect x="1501" y="797" width="12" height="12" class="sq"/>
<rect x="1522" y="1043" width="12" height="12" class="sq"/>
<rect x="1543" y="1043" width="12" height="12" class="sq"/>
<polygon points="990.1,1040.4 991.9,1046.0 997.8,1046.0 993.0,1049.5 994.9,1055.1 990.1,1051.6 985.3,1055.1 987.2,1049.5 982.4,1046.0 988.3,1046.0" class="st"/>
<polygon points="1011.1,1040.4 1012.9,1046.0 1018.8,1046.0 1014.0,1049.5 1015.9,1055.1 1011.1,1051.6 1006.3,1055.1 1008.2,1049.5 1003.4,1046.0 1009.3,1046.0" class="st"/>
<polygon points="1031.6,1040.4 1033.4,1046.0 1039.3,1046.0 1034.5,1049.5 1036.4,1055.1 1031.6,1051.6 1026.8,1055.1 1028.7,1049.5 1023.9,1046.0 1029.8,1046.0" class="st"/>
<polygon points="1052.1,1040.4 1053.9,1046.0 1059.8,1046.0 1055.0,1049.5 1056.9,1055.1 1052.1,1051.6 1047.3,1055.1 1049.2,1049.5 1044.4,1046.0 1050.3,1046.0" class="st"/>
<polygon points="1072.6,1040.4 1074.4,1046.0 1080.3,1046.0 1075.5,1049.5 1077.4,1055.1 1072.6,1051.6 1067.8,1055.1 1069.7,1049.5 1064.9,1046.0 1070.8,1046.0" class="st"/>
<polygon points="1093.0,1040.4 1094.8,1046.0 1100.7,1046.0 1095.9,1049.5 1097.8,1055.1 1093.0,1051.6 1088.2,1055.1 1090.1,1049.5 1085.3,1046.0 1091.2,1046.0" class="st"/>
<polygon points="1113.9,1040.4 1115.7,1046.0 1121.6,1046.0 1116.8,1049.5 1118.7,1055.1 1113.9,1051.6 1109.1,1055.1 1111.0,1049.5 1106.2,1046.0 1112.1,1046.0" class="st"/>
<polygon points="1134.1,1040.4 1135.9,1046.0 1141.8,1046.0 1137.0,1049.5 1138.9,1055.1 1134.1,1051.6 1129.3,1055.1 1131.2,1049.5 1126.4,1046.0 1132.3,1046.0" class="st"/>
<polygon points="1155.0,1040.4 1156.8,1046.0 1162.7,1046.0 1157.9,1049.5 1159.8,1055.1 1155.0,1051.6 1150.2,1055.1 1152.1,1049.5 1147.3,1046.0 1153.2,1046.0" class="st"/>
<polygon points="1175.1,1040.4 1176.9,1046.0 1182.8,1046.0 1178.0,1049.5 1179.9,1055.1 1175.1,1051.6 1170.3,1055.1 1172.2,1049.5 1167.4,1046.0 1173.3,1046.0" class="st"/>
<polygon points="1196.9,1040.4 1198.7,1046.0 1204.6,1046.0 1199.8,1049.5 1201.7,1055.1 1196.9,1051.6 1192.1,1055.1 1194.0,1049.5 1189.2,1046.0 1195.1,1046.0" class="st"/>
<polygon points="1221.1,1040.4 1222.9,1046.0 1228.8,1046.0 1224.0,1049.5 1225.9,1055.1 1221.1,1051.6 1216.3,1055.1 1218.2,1049.5 1213.4,1046.0 1219.3,1046.0" class="st"/>
<polygon points="1243.9,1040.4 1245.7,1046.0 1251.6,1046.0 1246.8,1049.5 1248.7,1055.1 1243.9,1051.6 1239.1,1055.1 1241.0,1049.5 1236.2,1046.0 1242.1,1046.0" class="st"/>
<polygon points="1264.8,1040.4 1266.6,1046.0 1272.5,1046.0 1267.7,1049.5 1269.6,1055.1 1264.8,1051.6 1260.0,1055.1 1261.9,1049.5 1257.1,1046.0 1263.0,1046.0" class="st"/>
<polygon points="1285.2,1040.4 1287.0,1046.0 1292.9,1046.0 1288.1,1049.5 1290.0,1055.1 1285.2,1051.6 1280.4,1055.1 1282.3,1049.5 1277.5,1046.0 1283.4,1046.0" class="st"/>
<polygon points="1305.5,1040.4 1307.3,1046.0 1313.2,1046.0 1308.4,1049.5 1310.3,1055.1 1305.5,1051.6 1300.7,1055.1 1302.6,1049.5 1297.8,1046.0 1303.7,1046.0" class="st"/>
<polygon points="1326.1,1040.4 1327.9,1046.0 1333.8,1046.0 1329.0,1049.5 1330.9,1055.1 1326.1,1051.6 1321.3,1055.1 1323.2,1049.5 1318.4,1046.0 1324.3,1046.0" class="st"/>
<polygon points="1346.5,1040.4 1348.3,1046.0 1354.2,1046.0 1349.4,1049.5 1351.3,1055.1 1346.5,1051.6 1341.7,1055.1 1343.6,1049.5 1338.8,1046.0 1344.7,1046.0" class="st"/>
<polygon points="1367.0,1040.4 1368.8,1046.0 1374.7,1046.0 1369.9,1049.5 1371.8,1055.1 1367.0,1051.6 1362.2,1055.1 1364.1,1049.5 1359.3,1046.0 1365.2,1046.0" class="st"/>
<polygon points="1388.0,1040.4 1389.8,1046.0 1395.7,1046.0 1390.9,1049.5 1392.8,1055.1 1388.0,1051.6 1383.2,1055.1 1385.1,1049.5 1380.3,1046.0 1386.2,1046.0" class="st"/>
<polygon points="1408.2,1040.4 1410.0,1046.0 1415.9,1046.0 1411.1,1049.5 1413.0,1055.1 1408.2,1051.6 1403.4,1055.1 1405.3,1049.5 1400.5,1046.0 1406.4,1046.0" class="st"/>
<polygon points="1428.1,1040.4 1429.9,1046.0 1435.8,1046.0 1431.0,1049.5 1432.9,1055.1 1428.1,1051.6 1423.3,1055.1 1425.2,1049.5 1420.4,1046.0 1426.3,1046.0" class="st"/>
<polygon points="1448.4,1040.4 1450.2,1046.0 1456.1,1046.0 1451.3,1049.5 1453.2,1055.1 1448.4,1051.6 1443.6,1055.1 1445.5,1049.5 1440.7,1046.0 1446.6,1046.0" class="st"/>
<polygon points="1469.5,1040.4 1471.3,1046.0 1477.2,1046.0 1472.4,1049.5 1474.3,1055.1 1469.5,1051.6 1464.7,1055.1 1466.6,1049.5 1461.8,1046.0 1467.7,1046.0" class="st"/>
<polygon points="1492.1,1040.4 1493.9,1046.0 1499.8,1046.0 1495.0,1049.5 1496.9,1055.1 1492.1,1051.6 1487.3,1055.1 1489.2,1049.5 1484.4,1046.0 1490.3,1046.0" class="st"/>
<polygon points="1515.2,1040.4 1517.0,1046.0 1522.9,1046.0 1518.1,1049.5 1520.0,1055.1 1515.2,1051.6 1510.4,1055.1 1512.3,1049.5 1507.5,1046.0 1513.4,1046.0" class="st"/>
<polygon points="1537.1,1040.4 1538.9,1046.0 1544.8,1046.0 1540.0,1049.5 1541.9,1055.1 1537.1,1051.6 1532.3,1055.1 1534.2,1049.5 1529.4,1046.0 1535.3,1046.0" class="st"/>
<polygon points="1558.4,1040.4 1560.2,1046.0 1566.1,1046.0 1561.3,1049.5 1563.2,1055.1 1558.4,1051.6 1553.6,1055.1 1555.5,1049.5 1550.7,1046.0 1556.6,1046.0" class="st"/>
<path d="M1819,673 V1051 M1818,1050 H2456" stroke="#000" stroke-width="2" fill="none"/>
<text x="1818.9" y="1094.5" text-anchor="middle" class="tl">0</text>
<text x="1960.2" y="1094.5" text-anchor="middle" class="tl">2000</text>
<text x="2101.4" y="1094.5" text-anchor="middle" class="tl">4000</text>
<text x="2242.7" y="1094.5" text-anchor="middle" class="tl">6000</text>
<text x="2383.9" y="1094.5" text-anchor="middle" class="tl">8000</text>
<text x="1806.8" y="1062.7" text-anchor="end" class="tl">0</text>
<text x="1806.8" y="938.5" text-anchor="end" class="tl">0.5</text>
<text x="1806.8" y="814.4" text-anchor="end" class="tl">1</text>
<text x="1806.8" y="690.2" text-anchor="end" class="tl">1.5</text>
<path d="M1960.2,1050 V1043 M2101.4,1050 V1043 M2242.7,1050 V1043 M2383.9,1050 V1043 M1818,925.3 H1826 M1818,801.2 H1826 M1818,677.0 H1826" stroke="#000" stroke-width="2" fill="none"/>
<text x="1819.3" y="668.9" class="tx">×</text>
<text x="1848.8" y="667.2" class="tl">10</text>
<text x="1882.9" y="651" class="tl" style="font-size:29px">-3</text>
<text x="2134" y="660.3" text-anchor="middle" class="ti">C11-0.01</text>
<text x="2136" y="1141" text-anchor="middle" class="xl">Time/5min</text>
<text transform="translate(1747.5,861.5) rotate(-90)" text-anchor="middle" class="yl">%</text>
<rect x="1823" y="948" width="12" height="12" class="sq"/>
<rect x="1834" y="1035" width="12" height="12" class="sq"/>
<rect x="1845" y="857" width="12" height="12" class="sq"/>
<rect x="1856" y="877" width="12" height="12" class="sq"/>
<rect x="1868" y="1001" width="12" height="12" class="sq"/>
<rect x="1879" y="791" width="12" height="12" class="sq"/>
<rect x="1890" y="989" width="12" height="12" class="sq"/>
<rect x="1901" y="949" width="12" height="12" class="sq"/>
<rect x="1912" y="893" width="12" height="12" class="sq"/>
<rect x="1923" y="1032" width="12" height="12" class="sq"/>
<rect x="1934" y="1001" width="12" height="12" class="sq"/>
<rect x="1946" y="890" width="12" height="12" class="sq"/>
<rect x="1957" y="1001" width="12" height="12" class="sq"/>
<rect x="1968" y="1001" width="12" height="12" class="sq"/>
<rect x="1979" y="813" width="12" height="12" class="sq"/>
<rect x="1990" y="905" width="12" height="12" class="sq"/>
<rect x="2001" y="908" width="12" height="12" class="sq"/>
<rect x="2013" y="937" width="12" height="12" class="sq"/>
<rect x="2024" y="994" width="12" height="12" class="sq"/>
<rect x="2035" y="987" width="12" height="12" class="sq"/>
<rect x="2046" y="1017" width="12" height="12" class="sq"/>
<rect x="2057" y="952" width="12" height="12" class="sq"/>
<rect x="2068" y="870" width="12" height="12" class="sq"/>
<rect x="2080" y="811" width="12" height="12" class="sq"/>
<rect x="2091" y="987" width="12" height="12" class="sq"/>
<rect x="2102" y="1020" width="12" height="12" class="sq"/>
<rect x="2113" y="772" width="12" height="12" class="sq"/>
<rect x="2124" y="928" width="12" height="12" class="sq"/>
<rect x="2135" y="986" width="12" height="12" class="sq"/>
<rect x="2147" y="848" width="12" height="12" class="sq"/>
<rect x="2158" y="757" width="12" height="12" class="sq"/>
<rect x="2169" y="994" width="12" height="12" class="sq"/>
<rect x="2180" y="923" width="12" height="12" class="sq"/>
<rect x="2191" y="1021" width="12" height="12" class="sq"/>
<rect x="2202" y="879" width="12" height="12" class="sq"/>
<rect x="2214" y="668" width="12" height="12" class="sq"/>
<rect x="2225" y="1034" width="12" height="12" class="sq"/>
<rect x="2236" y="911" width="12" height="12" class="sq"/>
<rect x="2247" y="851" width="12" height="12" class="sq"/>
<rect x="2258" y="975" width="12" height="12" class="sq"/>
<rect x="2269" y="924" width="12" height="12" class="sq"/>
<rect x="2280" y="958" width="12" height="12" class="sq"/>
<rect x="2292" y="872" width="12" height="12" class="sq"/>
<rect x="2303" y="868" width="12" height="12" class="sq"/>
<rect x="2314" y="974" width="12" height="12" class="sq"/>
<rect x="2325" y="1039" width="12" height="12" class="sq"/>
<rect x="2336" y="770" width="12" height="12" class="sq"/>
<rect x="2347" y="891" width="12" height="12" class="sq"/>
<rect x="2359" y="1030" width="12" height="12" class="sq"/>
<rect x="2370" y="1040" width="12" height="12" class="sq"/>
<rect x="2381" y="1006" width="12" height="12" class="sq"/>
<rect x="2392" y="956" width="12" height="12" class="sq"/>
<rect x="2403" y="905" width="12" height="12" class="sq"/>
<polygon points="1834.0,832.6 1835.8,838.2 1841.7,838.2 1836.9,841.7 1838.8,847.3 1834.0,843.8 1829.2,847.3 1831.1,841.7 1826.3,838.2 1832.2,838.2" class="st"/>
<polygon points="1845.2,844.4 1847.0,850.0 1852.9,850.0 1848.1,853.5 1849.9,859.1 1845.2,855.6 1840.4,859.1 1842.2,853.5 1837.5,850.0 1843.4,850.0" class="st"/>
<polygon points="1856.3,1008.1 1858.2,1013.7 1864.0,1013.7 1859.3,1017.2 1861.1,1022.8 1856.3,1019.3 1851.6,1022.8 1853.4,1017.2 1848.6,1013.7 1854.5,1013.7" class="st"/>
<polygon points="1867.5,996.8 1869.3,1002.4 1875.2,1002.4 1870.5,1005.9 1872.3,1011.5 1867.5,1008.0 1862.7,1011.5 1864.6,1005.9 1859.8,1002.4 1865.7,1002.4" class="st"/>
<polygon points="1878.7,1019.1 1880.5,1024.7 1886.4,1024.7 1881.6,1028.2 1883.4,1033.8 1878.7,1030.3 1873.9,1033.8 1875.7,1028.2 1871.0,1024.7 1876.9,1024.7" class="st"/>
<polygon points="1889.8,969.0 1891.7,974.6 1897.6,974.6 1892.8,978.1 1894.6,983.7 1889.8,980.2 1885.1,983.7 1886.9,978.1 1882.1,974.6 1888.0,974.6" class="st"/>
<polygon points="1901.0,949.2 1902.8,954.8 1908.7,954.8 1904.0,958.3 1905.8,963.9 1901.0,960.4 1896.3,963.9 1898.1,958.3 1893.3,954.8 1899.2,954.8" class="st"/>
<polygon points="1912.2,755.5 1914.0,761.1 1919.9,761.1 1915.1,764.6 1917.0,770.2 1912.2,766.7 1907.4,770.2 1909.2,764.6 1904.5,761.1 1910.4,761.1" class="st"/>
<polygon points="1923.4,764.2 1925.2,769.8 1931.1,769.8 1926.3,773.3 1928.1,778.9 1923.4,775.4 1918.6,778.9 1920.4,773.3 1915.7,769.8 1921.5,769.8" class="st"/>
<polygon points="1934.5,985.5 1936.3,991.1 1942.2,991.1 1937.5,994.6 1939.3,1000.2 1934.5,996.7 1929.8,1000.2 1931.6,994.6 1926.8,991.1 1932.7,991.1" class="st"/>
<polygon points="1945.7,826.4 1947.5,832.0 1953.4,832.0 1948.6,835.5 1950.5,841.1 1945.7,837.6 1940.9,841.1 1942.8,835.5 1938.0,832.0 1943.9,832.0" class="st"/>
<polygon points="1956.9,963.5 1958.7,969.1 1964.6,969.1 1959.8,972.6 1961.6,978.2 1956.9,974.7 1952.1,978.2 1953.9,972.6 1949.2,969.1 1955.1,969.1" class="st"/>
<polygon points="1968.0,908.3 1969.9,913.9 1975.7,913.9 1971.0,917.4 1972.8,923.0 1968.0,919.5 1963.3,923.0 1965.1,917.4 1960.3,913.9 1966.2,913.9" class="st"/>
<polygon points="1979.2,823.1 1981.0,828.7 1986.9,828.7 1982.2,832.2 1984.0,837.8 1979.2,834.3 1974.4,837.8 1976.3,832.2 1971.5,828.7 1977.4,828.7" class="st"/>
<polygon points="1990.4,956.5 1992.2,962.1 1998.1,962.1 1993.3,965.6 1995.1,971.2 1990.4,967.7 1985.6,971.2 1987.4,965.6 1982.7,962.1 1988.6,962.1" class="st"/>
<polygon points="2001.5,999.3 2003.4,1004.9 2009.3,1004.9 2004.5,1008.4 2006.3,1014.0 2001.5,1010.5 1996.8,1014.0 1998.6,1008.4 1993.8,1004.9 1999.7,1004.9" class="st"/>
<polygon points="2012.7,945.4 2014.5,951.0 2020.4,951.0 2015.7,954.5 2017.5,960.1 2012.7,956.6 2008.0,960.1 2009.8,954.5 2005.0,951.0 2010.9,951.0" class="st"/>
<polygon points="2023.9,966.0 2025.7,971.6 2031.6,971.6 2026.8,975.1 2028.7,980.7 2023.9,977.2 2019.1,980.7 2020.9,975.1 2016.2,971.6 2022.1,971.6" class="st"/>
<polygon points="2035.1,778.0 2036.9,783.6 2042.8,783.6 2038.0,787.1 2039.8,792.7 2035.1,789.2 2030.3,792.7 2032.1,787.1 2027.4,783.6 2033.2,783.6" class="st"/>
<polygon points="2046.2,933.9 2048.0,939.5 2053.9,939.5 2049.2,943.0 2051.0,948.6 2046.2,945.1 2041.5,948.6 2043.3,943.0 2038.5,939.5 2044.4,939.5" class="st"/>
<polygon points="2057.4,912.9 2059.2,918.5 2065.1,918.5 2060.3,922.0 2062.2,927.6 2057.4,924.1 2052.6,927.6 2054.5,922.0 2049.7,918.5 2055.6,918.5" class="st"/>
<polygon points="2068.6,895.1 2070.4,900.7 2076.3,900.7 2071.5,904.2 2073.3,909.8 2068.6,906.3 2063.8,909.8 2065.6,904.2 2060.9,900.7 2066.8,900.7" class="st"/>
<polygon points="2079.7,824.4 2081.6,830.0 2087.4,830.0 2082.7,833.5 2084.5,839.1 2079.7,835.6 2075.0,839.1 2076.8,833.5 2072.0,830.0 2077.9,830.0" class="st"/>
<polygon points="2090.9,956.0 2092.7,961.6 2098.6,961.6 2093.9,965.1 2095.7,970.7 2090.9,967.2 2086.1,970.7 2088.0,965.1 2083.2,961.6 2089.1,961.6" class="st"/>
<polygon points="2102.1,1002.8 2103.9,1008.4 2109.8,1008.4 2105.0,1011.9 2106.8,1017.5 2102.1,1014.0 2097.3,1017.5 2099.1,1011.9 2094.4,1008.4 2100.3,1008.4" class="st"/>
<polygon points="2113.2,913.4 2115.1,919.0 2121.0,919.0 2116.2,922.5 2118.0,928.1 2113.2,924.6 2108.5,928.1 2110.3,922.5 2105.5,919.0 2111.4,919.0" class="st"/>
<polygon points="2124.4,880.0 2126.2,885.6 2132.1,885.6 2127.4,889.1 2129.2,894.7 2124.4,891.2 2119.7,894.7 2121.5,889.1 2116.7,885.6 2122.6,885.6" class="st"/>
<polygon points="2135.6,910.1 2137.4,915.7 2143.3,915.7 2138.5,919.2 2140.4,924.8 2135.6,921.3 2130.8,924.8 2132.6,919.2 2127.9,915.7 2133.8,915.7" class="st"/>
<polygon points="2146.8,966.0 2148.6,971.6 2154.5,971.6 2149.7,975.1 2151.5,980.7 2146.8,977.2 2142.0,980.7 2143.8,975.1 2139.1,971.6 2144.9,971.6" class="st"/>
<polygon points="2157.9,890.3 2159.7,895.9 2165.6,895.9 2160.9,899.4 2162.7,905.0 2157.9,901.5 2153.2,905.0 2155.0,899.4 2150.2,895.9 2156.1,895.9" class="st"/>
<polygon points="2169.1,881.3 2170.9,886.9 2176.8,886.9 2172.0,890.4 2173.9,896.0 2169.1,892.5 2164.3,896.0 2166.2,890.4 2161.4,886.9 2167.3,886.9" class="st"/>
<polygon points="2180.3,940.9 2182.1,946.5 2188.0,946.5 2183.2,950.0 2185.0,955.6 2180.3,952.1 2175.5,955.6 2177.3,950.0 2172.6,946.5 2178.5,946.5" class="st"/>
<polygon points="2191.4,872.0 2193.3,877.6 2199.1,877.6 2194.4,881.1 2196.2,886.7 2191.4,883.2 2186.7,886.7 2188.5,881.1 2183.7,877.6 2189.6,877.6" class="st"/>
<polygon points="2202.6,844.4 2204.4,850.0 2210.3,850.0 2205.6,853.5 2207.4,859.1 2202.6,855.6 2197.8,859.1 2199.7,853.5 2194.9,850.0 2200.8,850.0" class="st"/>
<polygon points="2213.8,799.3 2215.6,804.9 2221.5,804.9 2216.7,808.4 2218.5,814.0 2213.8,810.5 2209.0,814.0 2210.8,808.4 2206.1,804.9 2212.0,804.9" class="st"/>
<polygon points="2224.9,933.4 2226.8,939.0 2232.7,939.0 2227.9,942.5 2229.7,948.1 2224.9,944.6 2220.2,948.1 2222.0,942.5 2217.2,939.0 2223.1,939.0" class="st"/>
<polygon points="2236.1,927.1 2237.9,932.7 2243.8,932.7 2239.1,936.2 2240.9,941.8 2236.1,938.3 2231.4,941.8 2233.2,936.2 2228.4,932.7 2234.3,932.7" class="st"/>
<polygon points="2247.3,910.3 2249.1,915.9 2255.0,915.9 2250.2,919.4 2252.1,925.0 2247.3,921.5 2242.5,925.0 2244.3,919.4 2239.6,915.9 2245.5,915.9" class="st"/>
<polygon points="2258.5,730.9 2260.3,736.5 2266.2,736.5 2261.4,740.0 2263.2,745.6 2258.5,742.1 2253.7,745.6 2255.5,740.0 2250.8,736.5 2256.6,736.5" class="st"/>
<polygon points="2269.6,880.2 2271.4,885.8 2277.3,885.8 2272.6,889.3 2274.4,894.9 2269.6,891.4 2264.9,894.9 2266.7,889.3 2261.9,885.8 2267.8,885.8" class="st"/>
<polygon points="2280.8,943.9 2282.6,949.5 2288.5,949.5 2283.7,953.0 2285.6,958.6 2280.8,955.1 2276.0,958.6 2277.9,953.0 2273.1,949.5 2279.0,949.5" class="st"/>
<polygon points="2292.0,977.2 2293.8,982.8 2299.7,982.8 2294.9,986.3 2296.7,991.9 2292.0,988.4 2287.2,991.9 2289.0,986.3 2284.3,982.8 2290.2,982.8" class="st"/>
<polygon points="2303.1,1012.3 2305.0,1017.9 2310.8,1017.9 2306.1,1021.4 2307.9,1027.0 2303.1,1023.5 2298.4,1027.0 2300.2,1021.4 2295.4,1017.9 2301.3,1017.9" class="st"/>
<polygon points="2314.3,1000.5 2316.1,1006.1 2322.0,1006.1 2317.3,1009.6 2319.1,1015.2 2314.3,1011.7 2309.5,1015.2 2311.4,1009.6 2306.6,1006.1 2312.5,1006.1" class="st"/>
<polygon points="2325.5,1029.8 2327.3,1035.4 2333.2,1035.4 2328.4,1038.9 2330.2,1044.5 2325.5,1041.0 2320.7,1044.5 2322.5,1038.9 2317.8,1035.4 2323.7,1035.4" class="st"/>
<polygon points="2336.7,1023.5 2338.5,1029.1 2344.4,1029.1 2339.6,1032.6 2341.4,1038.2 2336.7,1034.7 2331.9,1038.2 2333.7,1032.6 2328.9,1029.1 2334.8,1029.1" class="st"/>
<polygon points="2347.8,950.4 2349.6,956.0 2355.5,956.0 2350.8,959.5 2352.6,965.1 2347.8,961.6 2343.1,965.1 2344.9,959.5 2340.1,956.0 2346.0,956.0" class="st"/>
<polygon points="2359.0,733.4 2360.8,739.0 2366.7,739.0 2361.9,742.5 2363.8,748.1 2359.0,744.6 2354.2,748.1 2356.0,742.5 2351.3,739.0 2357.2,739.0" class="st"/>
<polygon points="2370.2,863.7 2372.0,869.3 2377.9,869.3 2373.1,872.8 2374.9,878.4 2370.2,874.9 2365.4,878.4 2367.2,872.8 2362.5,869.3 2368.3,869.3" class="st"/>
<polygon points="2381.3,1016.0 2383.1,1021.6 2389.0,1021.6 2384.3,1025.1 2386.1,1030.7 2381.3,1027.2 2376.6,1030.7 2378.4,1025.1 2373.6,1021.6 2379.5,1021.6" class="st"/>
<polygon points="2392.5,978.4 2394.3,984.0 2400.2,984.0 2395.4,987.5 2397.3,993.1 2392.5,989.6 2387.7,993.1 2389.6,987.5 2384.8,984.0 2390.7,984.0" class="st"/>
<polygon points="2403.7,785.5 2405.5,791.1 2411.4,791.1 2406.6,794.6 2408.4,800.2 2403.7,796.7 2398.9,800.2 2400.7,794.6 2396.0,791.1 2401.9,791.1" class="st"/>
<polygon points="2414.8,1029.8 2416.7,1035.4 2422.5,1035.4 2417.8,1038.9 2419.6,1044.5 2414.8,1041.0 2410.1,1044.5 2411.9,1038.9 2407.1,1035.4 2413.0,1035.4" class="st"/>
<path d="M117,1204 V1580 M116,1579 H754" stroke="#000" stroke-width="2" fill="none"/>
<text x="116.9" y="1623.5" text-anchor="middle" class="tl">0</text>
<text x="258.2" y="1623.5" text-anchor="middle" class="tl">2000</text>
<text x="399.4" y="1623.5" text-anchor="middle" class="tl">4000</text>
<text x="540.7" y="1623.5" text-anchor="middle" class="tl">6000</text>
<text x="681.9" y="1623.5" text-anchor="middle" class="tl">8000</text>
<text x="104.8" y="1592.0" text-anchor="end" class="tl">0</text>
<text x="104.8" y="1474.1" text-anchor="end" class="tl">2</text>
<text x="104.8" y="1356.2" text-anchor="end" class="tl">4</text>
<text x="104.8" y="1238.2" text-anchor="end" class="tl">6</text>
<path d="M258.2,1579 V1572 M399.4,1579 V1572 M540.7,1579 V1572 M681.9,1579 V1572 M116,1460.9 H124 M116,1343.0 H124 M116,1225.0 H124" stroke="#000" stroke-width="2" fill="none"/>
<text x="117.3" y="1198.9" class="tx">×</text>
<text x="146.8" y="1197.2" class="tl">10</text>
<text x="180.9" y="1181" class="tl" style="font-size:29px">-4</text>
<text x="432" y="1190.3" text-anchor="middle" class="ti">C01-0.001</text>
<text x="434" y="1670" text-anchor="middle" class="xl">Time/5min</text>
<text transform="translate(72.5,1391.0) rotate(-90)" text-anchor="middle" class="yl">%</text>
<rect x="119" y="1555" width="12" height="12" class="sq"/>
<rect x="140" y="1323" width="12" height="12" class="sq"/>
<rect x="161" y="1372" width="12" height="12" class="sq"/>
<rect x="182" y="1501" width="12" height="12" class="sq"/>
<rect x="203" y="1564" width="12" height="12" class="sq"/>
<rect x="224" y="1429" width="12" height="12" class="sq"/>
<rect x="245" y="1481" width="12" height="12" class="sq"/>
<rect x="266" y="1374" width="12" height="12" class="sq"/>
<rect x="287" y="1531" width="12" height="12" class="sq"/>
<rect x="308" y="1344" width="12" height="12" class="sq"/>
<rect x="329" y="1391" width="12" height="12" class="sq"/>
<rect x="350" y="1531" width="12" height="12" class="sq"/>
<rect x="372" y="1356" width="12" height="12" class="sq"/>
<rect x="393" y="1288" width="12" height="12" class="sq"/>
<rect x="414" y="1445" width="12" height="12" class="sq"/>
<rect x="435" y="1316" width="12" height="12" class="sq"/>
<rect x="456" y="1518" width="12" height="12" class="sq"/>
<rect x="477" y="1279" width="12" height="12" class="sq"/>
<rect x="498" y="1559" width="12" height="12" class="sq"/>
<rect x="519" y="1363" width="12" height="12" class="sq"/>
<rect x="540" y="1371" width="12" height="12" class="sq"/>
<rect x="561" y="1412" width="12" height="12" class="sq"/>
<rect x="582" y="1491" width="12" height="12" class="sq"/>
<rect x="603" y="1371" width="12" height="12" class="sq"/>
<rect x="624" y="1562" width="12" height="12" class="sq"/>
<rect x="645" y="1385" width="12" height="12" class="sq"/>
<rect x="667" y="1396" width="12" height="12" class="sq"/>
<rect x="688" y="1446" width="12" height="12" class="sq"/>
<polygon points="135.0,1232.3 136.8,1237.9 142.7,1237.9 137.9,1241.4 139.8,1247.0 135.0,1243.5 130.2,1247.0 132.1,1241.4 127.3,1237.9 133.2,1237.9" class="st"/>
<polygon points="156.1,1562.8 157.9,1568.4 163.8,1568.4 159.0,1571.9 160.8,1577.5 156.1,1574.0 151.3,1577.5 153.1,1571.9 148.3,1568.4 154.2,1568.4" class="st"/>
<polygon points="177.1,1197.1 178.9,1202.7 184.8,1202.7 180.0,1206.2 181.9,1211.8 177.1,1208.3 172.3,1211.8 174.2,1206.2 169.4,1202.7 175.3,1202.7" class="st"/>
<polygon points="198.2,1510.3 200.0,1515.9 205.9,1515.9 201.1,1519.4 202.9,1525.0 198.2,1521.5 193.4,1525.0 195.2,1519.4 190.4,1515.9 196.3,1515.9" class="st"/>
<polygon points="219.2,1304.5 221.0,1310.1 226.9,1310.1 222.1,1313.6 224.0,1319.2 219.2,1315.7 214.4,1319.2 216.3,1313.6 211.5,1310.1 217.4,1310.1" class="st"/>
<polygon points="240.2,1520.2 242.1,1525.8 248.0,1525.8 243.2,1529.3 245.0,1534.9 240.2,1531.4 235.5,1534.9 237.3,1529.3 232.5,1525.8 238.4,1525.8" class="st"/>
<polygon points="261.3,1467.9 263.1,1473.5 269.0,1473.5 264.2,1477.0 266.1,1482.6 261.3,1479.1 256.5,1482.6 258.4,1477.0 253.6,1473.5 259.5,1473.5" class="st"/>
<polygon points="282.4,1555.3 284.2,1560.9 290.1,1560.9 285.3,1564.4 287.1,1570.0 282.4,1566.5 277.6,1570.0 279.4,1564.4 274.6,1560.9 280.5,1560.9" class="st"/>
<polygon points="303.4,1562.0 305.2,1567.6 311.1,1567.6 306.3,1571.1 308.2,1576.7 303.4,1573.2 298.6,1576.7 300.5,1571.1 295.7,1567.6 301.6,1567.6" class="st"/>
<polygon points="324.5,1337.0 326.3,1342.6 332.2,1342.6 327.4,1346.1 329.2,1351.7 324.5,1348.2 319.7,1351.7 321.5,1346.1 316.7,1342.6 322.6,1342.6" class="st"/>
<polygon points="345.5,1393.2 347.3,1398.8 353.2,1398.8 348.4,1402.3 350.3,1407.9 345.5,1404.4 340.7,1407.9 342.6,1402.3 337.8,1398.8 343.7,1398.8" class="st"/>
<polygon points="366.6,1373.4 368.4,1379.0 374.3,1379.0 369.5,1382.5 371.3,1388.1 366.6,1384.6 361.8,1388.1 363.6,1382.5 358.8,1379.0 364.7,1379.0" class="st"/>
<polygon points="387.6,1357.5 389.4,1363.1 395.3,1363.1 390.5,1366.6 392.4,1372.2 387.6,1368.7 382.8,1372.2 384.7,1366.6 379.9,1363.1 385.8,1363.1" class="st"/>
<polygon points="408.7,1338.2 410.5,1343.8 416.4,1343.8 411.6,1347.3 413.4,1352.9 408.7,1349.4 403.9,1352.9 405.7,1347.3 400.9,1343.8 406.8,1343.8" class="st"/>
<polygon points="429.7,1330.0 431.5,1335.6 437.4,1335.6 432.6,1339.1 434.5,1344.7 429.7,1341.2 424.9,1344.7 426.8,1339.1 422.0,1335.6 427.9,1335.6" class="st"/>
<polygon points="450.8,1559.0 452.6,1564.6 458.5,1564.6 453.7,1568.1 455.5,1573.7 450.8,1570.2 446.0,1573.7 447.8,1568.1 443.0,1564.6 448.9,1564.6" class="st"/>
<polygon points="471.8,1521.2 473.6,1526.8 479.5,1526.8 474.7,1530.3 476.6,1535.9 471.8,1532.4 467.0,1535.9 468.9,1530.3 464.1,1526.8 470.0,1526.8" class="st"/>
<polygon points="492.9,1517.0 494.7,1522.6 500.6,1522.6 495.8,1526.1 497.6,1531.7 492.9,1528.2 488.1,1531.7 489.9,1526.1 485.1,1522.6 491.0,1522.6" class="st"/>
<polygon points="513.9,1267.4 515.7,1273.0 521.6,1273.0 516.8,1276.5 518.7,1282.1 513.9,1278.6 509.1,1282.1 511.0,1276.5 506.2,1273.0 512.1,1273.0" class="st"/>
<polygon points="535.0,1315.9 536.8,1321.5 542.7,1321.5 537.9,1325.0 539.7,1330.6 535.0,1327.1 530.2,1330.6 532.0,1325.0 527.2,1321.5 533.1,1321.5" class="st"/>
<polygon points="556.0,1549.1 557.8,1554.7 563.7,1554.7 558.9,1558.2 560.8,1563.8 556.0,1560.3 551.2,1563.8 553.1,1558.2 548.3,1554.7 554.2,1554.7" class="st"/>
<polygon points="577.1,1301.6 578.9,1307.2 584.8,1307.2 580.0,1310.7 581.8,1316.3 577.1,1312.8 572.3,1316.3 574.1,1310.7 569.3,1307.2 575.2,1307.2" class="st"/>
<polygon points="598.1,1234.2 599.9,1239.8 605.8,1239.8 601.0,1243.3 602.9,1248.9 598.1,1245.4 593.3,1248.9 595.2,1243.3 590.4,1239.8 596.3,1239.8" class="st"/>
<polygon points="619.2,1231.0 621.0,1236.6 626.9,1236.6 622.1,1240.1 623.9,1245.7 619.2,1242.2 614.4,1245.7 616.2,1240.1 611.4,1236.6 617.3,1236.6" class="st"/>
<polygon points="640.2,1471.2 642.0,1476.8 647.9,1476.8 643.1,1480.3 645.0,1485.9 640.2,1482.4 635.4,1485.9 637.3,1480.3 632.5,1476.8 638.4,1476.8" class="st"/>
<polygon points="661.2,1315.2 663.1,1320.8 669.0,1320.8 664.2,1324.3 666.0,1329.9 661.2,1326.4 656.5,1329.9 658.3,1324.3 653.5,1320.8 659.4,1320.8" class="st"/>
<polygon points="682.3,1568.9 684.1,1574.5 690.0,1574.5 685.2,1578.0 687.1,1583.6 682.3,1580.1 677.5,1583.6 679.4,1578.0 674.6,1574.5 680.5,1574.5" class="st"/>
<polygon points="703.4,1562.8 705.2,1568.4 711.1,1568.4 706.3,1571.9 708.1,1577.5 703.4,1574.0 698.6,1577.5 700.4,1571.9 695.6,1568.4 701.5,1568.4" class="st"/>
<path d="M968,1204 V1580 M967,1579 H1605" stroke="#000" stroke-width="2" fill="none"/>
<text x="967.9" y="1623.5" text-anchor="middle" class="tl">0</text>
<text x="1109.2" y="1623.5" text-anchor="middle" class="tl">2000</text>
<text x="1250.4" y="1623.5" text-anchor="middle" class="tl">4000</text>
<text x="1391.7" y="1623.5" text-anchor="middle" class="tl">6000</text>
<text x="1532.9" y="1623.5" text-anchor="middle" class="tl">8000</text>
<text x="955.8" y="1592.0" text-anchor="end" class="tl">0</text>
<text x="955.8" y="1498.4" text-anchor="end" class="tl">0.2</text>
<text x="955.8" y="1404.8" text-anchor="end" class="tl">0.4</text>
<text x="955.8" y="1311.2" text-anchor="end" class="tl">0.6</text>
<text x="955.8" y="1217.6" text-anchor="end" class="tl">0.8</text>
<path d="M1109.2,1579 V1572 M1250.4,1579 V1572 M1391.7,1579 V1572 M1532.9,1579 V1572 M967,1485.2 H975 M967,1391.6 H975 M967,1298.0 H975 M967,1204.4 H975" stroke="#000" stroke-width="2" fill="none"/>
<text x="1283" y="1190.3" text-anchor="middle" class="ti">C06-0.001</text>
<text x="1285" y="1670" text-anchor="middle" class="xl">Time/5min</text>
<text transform="translate(896.5,1391.0) rotate(-90)" text-anchor="middle" class="yl">%</text>
<rect x="974" y="1573" width="12" height="12" class="sq"/>
<rect x="995" y="1573" width="12" height="12" class="sq"/>
<rect x="1015" y="1573" width="12" height="12" class="sq"/>
<rect x="1036" y="1573" width="12" height="12" class="sq"/>
<rect x="1056" y="1573" width="12" height="12" class="sq"/>
<rect x="1077" y="1573" width="12" height="12" class="sq"/>
<rect x="1097" y="1573" width="12" height="12" class="sq"/>
<rect x="1118" y="1573" width="12" height="12" class="sq"/>
<rect x="1138" y="1573" width="12" height="12" class="sq"/>
<rect x="1159" y="1573" width="12" height="12" class="sq"/>
<rect x="1181" y="1573" width="12" height="12" class="sq"/>
<rect x="1206" y="1573" width="12" height="12" class="sq"/>
<rect x="1228" y="1573" width="12" height="12" class="sq"/>
<rect x="1269" y="1573" width="12" height="12" class="sq"/>
<rect x="1290" y="1573" width="12" height="12" class="sq"/>
<rect x="1310" y="1573" width="12" height="12" class="sq"/>
<rect x="1330" y="1573" width="12" height="12" class="sq"/>
<rect x="1351" y="1573" width="12" height="12" class="sq"/>
<rect x="1372" y="1573" width="12" height="12" class="sq"/>
<rect x="1392" y="1573" width="12" height="12" class="sq"/>
<rect x="1412" y="1573" width="12" height="12" class="sq"/>
<rect x="1433" y="1573" width="12" height="12" class="sq"/>
<rect x="1454" y="1573" width="12" height="12" class="sq"/>
<rect x="1477" y="1573" width="12" height="12" class="sq"/>
<rect x="1501" y="1573" width="12" height="12" class="sq"/>
<rect x="1522" y="1573" width="12" height="12" class="sq"/>
<rect x="1543" y="1573" width="12" height="12" class="sq"/>
<rect x="1249" y="1231" width="12" height="12" class="sq"/>
<polygon points="990.1,1571.4 991.9,1577.0 997.8,1577.0 993.0,1580.5 994.9,1586.1 990.1,1582.6 985.3,1586.1 987.2,1580.5 982.4,1577.0 988.3,1577.0" class="st"/>
<polygon points="1011.1,1571.4 1012.9,1577.0 1018.8,1577.0 1014.0,1580.5 1015.9,1586.1 1011.1,1582.6 1006.3,1586.1 1008.2,1580.5 1003.4,1577.0 1009.3,1577.0" class="st"/>
<polygon points="1031.6,1571.4 1033.4,1577.0 1039.3,1577.0 1034.5,1580.5 1036.4,1586.1 1031.6,1582.6 1026.8,1586.1 1028.7,1580.5 1023.9,1577.0 1029.8,1577.0" class="st"/>
<polygon points="1052.1,1571.4 1053.9,1577.0 1059.8,1577.0 1055.0,1580.5 1056.9,1586.1 1052.1,1582.6 1047.3,1586.1 1049.2,1580.5 1044.4,1577.0 1050.3,1577.0" class="st"/>
<polygon points="1072.6,1571.4 1074.4,1577.0 1080.3,1577.0 1075.5,1580.5 1077.4,1586.1 1072.6,1582.6 1067.8,1586.1 1069.7,1580.5 1064.9,1577.0 1070.8,1577.0" class="st"/>
<polygon points="1093.0,1571.4 1094.8,1577.0 1100.7,1577.0 1095.9,1580.5 1097.8,1586.1 1093.0,1582.6 1088.2,1586.1 1090.1,1580.5 1085.3,1577.0 1091.2,1577.0" class="st"/>
<polygon points="1113.9,1571.4 1115.7,1577.0 1121.6,1577.0 1116.8,1580.5 1118.7,1586.1 1113.9,1582.6 1109.1,1586.1 1111.0,1580.5 1106.2,1577.0 1112.1,1577.0" class="st"/>
<polygon points="1134.1,1571.4 1135.9,1577.0 1141.8,1577.0 1137.0,1580.5 1138.9,1586.1 1134.1,1582.6 1129.3,1586.1 1131.2,1580.5 1126.4,1577.0 1132.3,1577.0" class="st"/>
<polygon points="1155.0,1571.4 1156.8,1577.0 1162.7,1577.0 1157.9,1580.5 1159.8,1586.1 1155.0,1582.6 1150.2,1586.1 1152.1,1580.5 1147.3,1577.0 1153.2,1577.0" class="st"/>
<polygon points="1175.1,1571.4 1176.9,1577.0 1182.8,1577.0 1178.0,1580.5 1179.9,1586.1 1175.1,1582.6 1170.3,1586.1 1172.2,1580.5 1167.4,1577.0 1173.3,1577.0" class="st"/>
<polygon points="1196.9,1571.4 1198.7,1577.0 1204.6,1577.0 1199.8,1580.5 1201.7,1586.1 1196.9,1582.6 1192.1,1586.1 1194.0,1580.5 1189.2,1577.0 1195.1,1577.0" class="st"/>
<polygon points="1221.1,1571.4 1222.9,1577.0 1228.8,1577.0 1224.0,1580.5 1225.9,1586.1 1221.1,1582.6 1216.3,1586.1 1218.2,1580.5 1213.4,1577.0 1219.3,1577.0" class="st"/>
<polygon points="1243.9,1571.4 1245.7,1577.0 1251.6,1577.0 1246.8,1580.5 1248.7,1586.1 1243.9,1582.6 1239.1,1586.1 1241.0,1580.5 1236.2,1577.0 1242.1,1577.0" class="st"/>
<polygon points="1264.8,1571.4 1266.6,1577.0 1272.5,1577.0 1267.7,1580.5 1269.6,1586.1 1264.8,1582.6 1260.0,1586.1 1261.9,1580.5 1257.1,1577.0 1263.0,1577.0" class="st"/>
<polygon points="1285.2,1571.4 1287.0,1577.0 1292.9,1577.0 1288.1,1580.5 1290.0,1586.1 1285.2,1582.6 1280.4,1586.1 1282.3,1580.5 1277.5,1577.0 1283.4,1577.0" class="st"/>
<polygon points="1305.5,1571.4 1307.3,1577.0 1313.2,1577.0 1308.4,1580.5 1310.3,1586.1 1305.5,1582.6 1300.7,1586.1 1302.6,1580.5 1297.8,1577.0 1303.7,1577.0" class="st"/>
<polygon points="1326.1,1571.4 1327.9,1577.0 1333.8,1577.0 1329.0,1580.5 1330.9,1586.1 1326.1,1582.6 1321.3,1586.1 1323.2,1580.5 1318.4,1577.0 1324.3,1577.0" class="st"/>
<polygon points="1346.5,1571.4 1348.3,1577.0 1354.2,1577.0 1349.4,1580.5 1351.3,1586.1 1346.5,1582.6 1341.7,1586.1 1343.6,1580.5 1338.8,1577.0 1344.7,1577.0" class="st"/>
<polygon points="1367.0,1571.4 1368.8,1577.0 1374.7,1577.0 1369.9,1580.5 1371.8,1586.1 1367.0,1582.6 1362.2,1586.1 1364.1,1580.5 1359.3,1577.0 1365.2,1577.0" class="st"/>
<polygon points="1388.0,1571.4 1389.8,1577.0 1395.7,1577.0 1390.9,1580.5 1392.8,1586.1 1388.0,1582.6 1383.2,1586.1 1385.1,1580.5 1380.3,1577.0 1386.2,1577.0" class="st"/>
<polygon points="1408.2,1571.4 1410.0,1577.0 1415.9,1577.0 1411.1,1580.5 1413.0,1586.1 1408.2,1582.6 1403.4,1586.1 1405.3,1580.5 1400.5,1577.0 1406.4,1577.0" class="st"/>
<polygon points="1428.1,1571.4 1429.9,1577.0 1435.8,1577.0 1431.0,1580.5 1432.9,1586.1 1428.1,1582.6 1423.3,1586.1 1425.2,1580.5 1420.4,1577.0 1426.3,1577.0" class="st"/>
<polygon points="1448.4,1571.4 1450.2,1577.0 1456.1,1577.0 1451.3,1580.5 1453.2,1586.1 1448.4,1582.6 1443.6,1586.1 1445.5,1580.5 1440.7,1577.0 1446.6,1577.0" class="st"/>
<polygon points="1469.5,1571.4 1471.3,1577.0 1477.2,1577.0 1472.4,1580.5 1474.3,1586.1 1469.5,1582.6 1464.7,1586.1 1466.6,1580.5 1461.8,1577.0 1467.7,1577.0" class="st"/>
<polygon points="1492.1,1571.4 1493.9,1577.0 1499.8,1577.0 1495.0,1580.5 1496.9,1586.1 1492.1,1582.6 1487.3,1586.1 1489.2,1580.5 1484.4,1577.0 1490.3,1577.0" class="st"/>
<polygon points="1537.1,1571.4 1538.9,1577.0 1544.8,1577.0 1540.0,1580.5 1541.9,1586.1 1537.1,1582.6 1532.3,1586.1 1534.2,1580.5 1529.4,1577.0 1535.3,1577.0" class="st"/>
<polygon points="1558.4,1571.4 1560.2,1577.0 1566.1,1577.0 1561.3,1580.5 1563.2,1586.1 1558.4,1582.6 1553.6,1586.1 1555.5,1580.5 1550.7,1577.0 1556.6,1577.0" class="st"/>
<polygon points="1515.2,1399.2 1517.0,1404.8 1522.9,1404.8 1518.1,1408.3 1520.0,1413.9 1515.2,1410.4 1510.4,1413.9 1512.3,1408.3 1507.5,1404.8 1513.4,1404.8" class="st"/>
<path d="M1819,1204 V1580 M1818,1579 H2456" stroke="#000" stroke-width="2" fill="none"/>
<text x="1818.9" y="1623.5" text-anchor="middle" class="tl">0</text>
<text x="1960.2" y="1623.5" text-anchor="middle" class="tl">2000</text>
<text x="2101.4" y="1623.5" text-anchor="middle" class="tl">4000</text>
<text x="2242.7" y="1623.5" text-anchor="middle" class="tl">6000</text>
<text x="2383.9" y="1623.5" text-anchor="middle" class="tl">8000</text>
<text x="1806.8" y="1592.0" text-anchor="end" class="tl">0</text>
<text x="1806.8" y="1467.2" text-anchor="end" class="tl">0.5</text>
<text x="1806.8" y="1342.4" text-anchor="end" class="tl">1</text>
<text x="1806.8" y="1217.6" text-anchor="end" class="tl">1.5</text>
<path d="M1960.2,1579 V1572 M2101.4,1579 V1572 M2242.7,1579 V1572 M2383.9,1579 V1572 M1818,1454.0 H1826 M1818,1329.2 H1826 M1818,1204.4 H1826" stroke="#000" stroke-width="2" fill="none"/>
<text x="1819.3" y="1198.9" class="tx">×</text>
<text x="1848.8" y="1197.2" class="tl">10</text>
<text x="1882.9" y="1181" class="tl" style="font-size:29px">-3</text>
<text x="2134" y="1190.3" text-anchor="middle" class="ti">C11-0.001</text>
<text x="2136" y="1670" text-anchor="middle" class="xl">Time/5min</text>
<text transform="translate(1747.5,1391.0) rotate(-90)" text-anchor="middle" class="yl">%</text>
<rect x="1823" y="1415" width="12" height="12" class="sq"/>
<rect x="1834" y="1552" width="12" height="12" class="sq"/>
<rect x="1845" y="1542" width="12" height="12" class="sq"/>
<rect x="1856" y="1404" width="12" height="12" class="sq"/>
<rect x="1868" y="1364" width="12" height="12" class="sq"/>
<rect x="1879" y="1417" width="12" height="12" class="sq"/>
<rect x="1890" y="1526" width="12" height="12" class="sq"/>
<rect x="1901" y="1332" width="12" height="12" class="sq"/>
<rect x="1912" y="1314" width="12" height="12" class="sq"/>
<rect x="1923" y="1471" width="12" height="12" class="sq"/>
<rect x="1934" y="1506" width="12" height="12" class="sq"/>
<rect x="1946" y="1428" width="12" height="12" class="sq"/>
<rect x="1957" y="1269" width="12" height="12" class="sq"/>
<rect x="1968" y="1474" width="12" height="12" class="sq"/>
<rect x="1979" y="1481" width="12" height="12" class="sq"/>
<rect x="1990" y="1435" width="12" height="12" class="sq"/>
<rect x="2001" y="1458" width="12" height="12" class="sq"/>
<rect x="2013" y="1394" width="12" height="12" class="sq"/>
<rect x="2024" y="1424" width="12" height="12" class="sq"/>
<rect x="2035" y="1314" width="12" height="12" class="sq"/>
<rect x="2046" y="1401" width="12" height="12" class="sq"/>
<rect x="2057" y="1452" width="12" height="12" class="sq"/>
<rect x="2068" y="1329" width="12" height="12" class="sq"/>
<rect x="2080" y="1300" width="12" height="12" class="sq"/>
<rect x="2091" y="1384" width="12" height="12" class="sq"/>
<rect x="2102" y="1339" width="12" height="12" class="sq"/>
<rect x="2113" y="1444" width="12" height="12" class="sq"/>
<rect x="2124" y="1396" width="12" height="12" class="sq"/>
<rect x="2135" y="1507" width="12" height="12" class="sq"/>
<rect x="2147" y="1391" width="12" height="12" class="sq"/>
<rect x="2158" y="1380" width="12" height="12" class="sq"/>
<rect x="2169" y="1421" width="12" height="12" class="sq"/>
<rect x="2180" y="1503" width="12" height="12" class="sq"/>
<rect x="2191" y="1403" width="12" height="12" class="sq"/>
<rect x="2202" y="1411" width="12" height="12" class="sq"/>
<rect x="2214" y="1485" width="12" height="12" class="sq"/>
<rect x="2225" y="1394" width="12" height="12" class="sq"/>
<rect x="2236" y="1414" width="12" height="12" class="sq"/>
<rect x="2247" y="1474" width="12" height="12" class="sq"/>
<rect x="2258" y="1533" width="12" height="12" class="sq"/>
<rect x="2269" y="1570" width="12" height="12" class="sq"/>
<rect x="2280" y="1363" width="12" height="12" class="sq"/>
<rect x="2292" y="1317" width="12" height="12" class="sq"/>
<rect x="2303" y="1343" width="12" height="12" class="sq"/>
<rect x="2314" y="1349" width="12" height="12" class="sq"/>
<rect x="2325" y="1430" width="12" height="12" class="sq"/>
<rect x="2336" y="1386" width="12" height="12" class="sq"/>
<rect x="2347" y="1375" width="12" height="12" class="sq"/>
<rect x="2359" y="1379" width="12" height="12" class="sq"/>
<rect x="2370" y="1525" width="12" height="12" class="sq"/>
<rect x="2381" y="1404" width="12" height="12" class="sq"/>
<rect x="2392" y="1514" width="12" height="12" class="sq"/>
<rect x="2403" y="1476" width="12" height="12" class="sq"/>
<polygon points="1834.0,1367.4 1835.8,1373.0 1841.7,1373.0 1836.9,1376.5 1838.8,1382.1 1834.0,1378.6 1829.2,1382.1 1831.1,1376.5 1826.3,1373.0 1832.2,1373.0" class="st"/>
<polygon points="1845.2,1516.0 1847.0,1521.6 1852.9,1521.6 1848.1,1525.1 1849.9,1530.7 1845.2,1527.2 1840.4,1530.7 1842.2,1525.1 1837.5,1521.6 1843.4,1521.6" class="st"/>
<polygon points="1856.3,1409.5 1858.2,1415.1 1864.0,1415.1 1859.3,1418.6 1861.1,1424.2 1856.3,1420.7 1851.6,1424.2 1853.4,1418.6 1848.6,1415.1 1854.5,1415.1" class="st"/>
<polygon points="1867.5,1526.1 1869.3,1531.7 1875.2,1531.7 1870.5,1535.2 1872.3,1540.8 1867.5,1537.3 1862.7,1540.8 1864.6,1535.2 1859.8,1531.7 1865.7,1531.7" class="st"/>
<polygon points="1878.7,1322.3 1880.5,1327.9 1886.4,1327.9 1881.6,1331.4 1883.4,1337.0 1878.7,1333.5 1873.9,1337.0 1875.7,1331.4 1871.0,1327.9 1876.9,1327.9" class="st"/>
<polygon points="1889.8,1419.5 1891.7,1425.1 1897.6,1425.1 1892.8,1428.6 1894.6,1434.2 1889.8,1430.7 1885.1,1434.2 1886.9,1428.6 1882.1,1425.1 1888.0,1425.1" class="st"/>
<polygon points="1901.0,1558.6 1902.8,1564.2 1908.7,1564.2 1904.0,1567.7 1905.8,1573.3 1901.0,1569.8 1896.3,1573.3 1898.1,1567.7 1893.3,1564.2 1899.2,1564.2" class="st"/>
<polygon points="1912.2,1449.1 1914.0,1454.7 1919.9,1454.7 1915.1,1458.2 1917.0,1463.8 1912.2,1460.3 1907.4,1463.8 1909.2,1458.2 1904.5,1454.7 1910.4,1454.7" class="st"/>
<polygon points="1923.4,1480.4 1925.2,1486.0 1931.1,1486.0 1926.3,1489.5 1928.1,1495.1 1923.4,1491.6 1918.6,1495.1 1920.4,1489.5 1915.7,1486.0 1921.5,1486.0" class="st"/>
<polygon points="1934.5,1502.2 1936.3,1507.8 1942.2,1507.8 1937.5,1511.3 1939.3,1516.9 1934.5,1513.4 1929.8,1516.9 1931.6,1511.3 1926.8,1507.8 1932.7,1507.8" class="st"/>
<polygon points="1945.7,1439.6 1947.5,1445.2 1953.4,1445.2 1948.6,1448.7 1950.5,1454.3 1945.7,1450.8 1940.9,1454.3 1942.8,1448.7 1938.0,1445.2 1943.9,1445.2" class="st"/>
<polygon points="1956.9,1365.7 1958.7,1371.3 1964.6,1371.3 1959.8,1374.8 1961.6,1380.4 1956.9,1376.9 1952.1,1380.4 1953.9,1374.8 1949.2,1371.3 1955.1,1371.3" class="st"/>
<polygon points="1968.0,1562.9 1969.9,1568.5 1975.7,1568.5 1971.0,1572.0 1972.8,1577.6 1968.0,1574.1 1963.3,1577.6 1965.1,1572.0 1960.3,1568.5 1966.2,1568.5" class="st"/>
<polygon points="1979.2,1478.4 1981.0,1484.0 1986.9,1484.0 1982.2,1487.5 1984.0,1493.1 1979.2,1489.6 1974.4,1493.1 1976.3,1487.5 1971.5,1484.0 1977.4,1484.0" class="st"/>
<polygon points="1990.4,1326.1 1992.2,1331.7 1998.1,1331.7 1993.3,1335.2 1995.1,1340.8 1990.4,1337.3 1985.6,1340.8 1987.4,1335.2 1982.7,1331.7 1988.6,1331.7" class="st"/>
<polygon points="2001.5,1312.5 2003.4,1318.1 2009.3,1318.1 2004.5,1321.6 2006.3,1327.2 2001.5,1323.7 1996.8,1327.2 1998.6,1321.6 1993.8,1318.1 1999.7,1318.1" class="st"/>
<polygon points="2012.7,1515.5 2014.5,1521.1 2020.4,1521.1 2015.7,1524.6 2017.5,1530.2 2012.7,1526.7 2008.0,1530.2 2009.8,1524.6 2005.0,1521.1 2010.9,1521.1" class="st"/>
<polygon points="2023.9,1429.5 2025.7,1435.1 2031.6,1435.1 2026.8,1438.6 2028.7,1444.2 2023.9,1440.7 2019.1,1444.2 2020.9,1438.6 2016.2,1435.1 2022.1,1435.1" class="st"/>
<polygon points="2035.1,1433.3 2036.9,1438.9 2042.8,1438.9 2038.0,1442.4 2039.8,1448.0 2035.1,1444.5 2030.3,1448.0 2032.1,1442.4 2027.4,1438.9 2033.2,1438.9" class="st"/>
<polygon points="2046.2,1568.7 2048.0,1574.3 2053.9,1574.3 2049.2,1577.8 2051.0,1583.4 2046.2,1579.9 2041.5,1583.4 2043.3,1577.8 2038.5,1574.3 2044.4,1574.3" class="st"/>
<polygon points="2057.4,1549.1 2059.2,1554.7 2065.1,1554.7 2060.3,1558.2 2062.2,1563.8 2057.4,1560.3 2052.6,1563.8 2054.5,1558.2 2049.7,1554.7 2055.6,1554.7" class="st"/>
<polygon points="2068.6,1437.8 2070.4,1443.4 2076.3,1443.4 2071.5,1446.9 2073.3,1452.5 2068.6,1449.0 2063.8,1452.5 2065.6,1446.9 2060.9,1443.4 2066.8,1443.4" class="st"/>
<polygon points="2079.7,1551.1 2081.6,1556.7 2087.4,1556.7 2082.7,1560.2 2084.5,1565.8 2079.7,1562.3 2075.0,1565.8 2076.8,1560.2 2072.0,1556.7 2077.9,1556.7" class="st"/>
<polygon points="2090.9,1555.6 2092.7,1561.2 2098.6,1561.2 2093.9,1564.7 2095.7,1570.3 2090.9,1566.8 2086.1,1570.3 2088.0,1564.7 2083.2,1561.2 2089.1,1561.2" class="st"/>
<polygon points="2102.1,1436.3 2103.9,1441.9 2109.8,1441.9 2105.0,1445.4 2106.8,1451.0 2102.1,1447.5 2097.3,1451.0 2099.1,1445.4 2094.4,1441.9 2100.3,1441.9" class="st"/>
<polygon points="2113.2,1484.7 2115.1,1490.3 2121.0,1490.3 2116.2,1493.8 2118.0,1499.4 2113.2,1495.9 2108.5,1499.4 2110.3,1493.8 2105.5,1490.3 2111.4,1490.3" class="st"/>
<polygon points="2124.4,1569.9 2126.2,1575.5 2132.1,1575.5 2127.4,1579.0 2129.2,1584.6 2124.4,1581.1 2119.7,1584.6 2121.5,1579.0 2116.7,1575.5 2122.6,1575.5" class="st"/>
<polygon points="2135.6,1385.2 2137.4,1390.8 2143.3,1390.8 2138.5,1394.3 2140.4,1399.9 2135.6,1396.4 2130.8,1399.9 2132.6,1394.3 2127.9,1390.8 2133.8,1390.8" class="st"/>
<polygon points="2146.8,1314.3 2148.6,1319.9 2154.5,1319.9 2149.7,1323.4 2151.5,1329.0 2146.8,1325.5 2142.0,1329.0 2143.8,1323.4 2139.1,1319.9 2144.9,1319.9" class="st"/>
<polygon points="2157.9,1499.0 2159.7,1504.6 2165.6,1504.6 2160.9,1508.1 2162.7,1513.7 2157.9,1510.2 2153.2,1513.7 2155.0,1508.1 2150.2,1504.6 2156.1,1504.6" class="st"/>
<polygon points="2169.1,1569.2 2170.9,1574.8 2176.8,1574.8 2172.0,1578.3 2173.9,1583.9 2169.1,1580.4 2164.3,1583.9 2166.2,1578.3 2161.4,1574.8 2167.3,1574.8" class="st"/>
<polygon points="2180.3,1319.3 2182.1,1324.9 2188.0,1324.9 2183.2,1328.4 2185.0,1334.0 2180.3,1330.5 2175.5,1334.0 2177.3,1328.4 2172.6,1324.9 2178.5,1324.9" class="st"/>
<polygon points="2191.4,1481.4 2193.3,1487.0 2199.1,1487.0 2194.4,1490.5 2196.2,1496.1 2191.4,1492.6 2186.7,1496.1 2188.5,1490.5 2183.7,1487.0 2189.6,1487.0" class="st"/>
<polygon points="2202.6,1564.9 2204.4,1570.5 2210.3,1570.5 2205.6,1574.0 2207.4,1579.6 2202.6,1576.1 2197.8,1579.6 2199.7,1574.0 2194.9,1570.5 2200.8,1570.5" class="st"/>
<polygon points="2213.8,1370.2 2215.6,1375.8 2221.5,1375.8 2216.7,1379.3 2218.5,1384.9 2213.8,1381.4 2209.0,1384.9 2210.8,1379.3 2206.1,1375.8 2212.0,1375.8" class="st"/>
<polygon points="2224.9,1369.4 2226.8,1375.0 2232.7,1375.0 2227.9,1378.5 2229.7,1384.1 2224.9,1380.6 2220.2,1384.1 2222.0,1378.5 2217.2,1375.0 2223.1,1375.0" class="st"/>
<polygon points="2236.1,1403.9 2237.9,1409.5 2243.8,1409.5 2239.1,1413.0 2240.9,1418.6 2236.1,1415.1 2231.4,1418.6 2233.2,1413.0 2228.4,1409.5 2234.3,1409.5" class="st"/>
<polygon points="2247.3,1541.0 2249.1,1546.6 2255.0,1546.6 2250.2,1550.1 2252.1,1555.7 2247.3,1552.2 2242.5,1555.7 2244.3,1550.1 2239.6,1546.6 2245.5,1546.6" class="st"/>
<polygon points="2258.5,1412.0 2260.3,1417.6 2266.2,1417.6 2261.4,1421.1 2263.2,1426.7 2258.5,1423.2 2253.7,1426.7 2255.5,1421.1 2250.8,1417.6 2256.6,1417.6" class="st"/>
<polygon points="2269.6,1502.9 2271.4,1508.5 2277.3,1508.5 2272.6,1512.0 2274.4,1517.6 2269.6,1514.1 2264.9,1517.6 2266.7,1512.0 2261.9,1508.5 2267.8,1508.5" class="st"/>
<polygon points="2280.8,1517.2 2282.6,1522.8 2288.5,1522.8 2283.7,1526.3 2285.6,1531.9 2280.8,1528.4 2276.0,1531.9 2277.9,1526.3 2273.1,1522.8 2279.0,1522.8" class="st"/>
<polygon points="2292.0,1469.6 2293.8,1475.2 2299.7,1475.2 2294.9,1478.7 2296.7,1484.3 2292.0,1480.8 2287.2,1484.3 2289.0,1478.7 2284.3,1475.2 2290.2,1475.2" class="st"/>
<polygon points="2303.1,1539.8 2305.0,1545.4 2310.8,1545.4 2306.1,1548.9 2307.9,1554.5 2303.1,1551.0 2298.4,1554.5 2300.2,1548.9 2295.4,1545.4 2301.3,1545.4" class="st"/>
<polygon points="2314.3,1407.7 2316.1,1413.3 2322.0,1413.3 2317.3,1416.8 2319.1,1422.4 2314.3,1418.9 2309.5,1422.4 2311.4,1416.8 2306.6,1413.3 2312.5,1413.3" class="st"/>
<polygon points="2325.5,1556.0 2327.3,1561.6 2333.2,1561.6 2328.4,1565.1 2330.2,1570.7 2325.5,1567.2 2320.7,1570.7 2322.5,1565.1 2317.8,1561.6 2323.7,1561.6" class="st"/>
<polygon points="2336.7,1504.7 2338.5,1510.3 2344.4,1510.3 2339.6,1513.8 2341.4,1519.4 2336.7,1515.9 2331.9,1519.4 2333.7,1513.8 2328.9,1510.3 2334.8,1510.3" class="st"/>
<polygon points="2347.8,1366.9 2349.6,1372.5 2355.5,1372.5 2350.8,1376.0 2352.6,1381.6 2347.8,1378.1 2343.1,1381.6 2344.9,1376.0 2340.1,1372.5 2346.0,1372.5" class="st"/>
<polygon points="2359.0,1342.6 2360.8,1348.2 2366.7,1348.2 2361.9,1351.7 2363.8,1357.3 2359.0,1353.8 2354.2,1357.3 2356.0,1351.7 2351.3,1348.2 2357.2,1348.2" class="st"/>
<polygon points="2370.2,1376.9 2372.0,1382.5 2377.9,1382.5 2373.1,1386.0 2374.9,1391.6 2370.2,1388.1 2365.4,1391.6 2367.2,1386.0 2362.5,1382.5 2368.3,1382.5" class="st"/>
<polygon points="2381.3,1474.6 2383.1,1480.2 2389.0,1480.2 2384.3,1483.7 2386.1,1489.3 2381.3,1485.8 2376.6,1489.3 2378.4,1483.7 2373.6,1480.2 2379.5,1480.2" class="st"/>
<polygon points="2392.5,1526.5 2394.3,1532.1 2400.2,1532.1 2395.4,1535.6 2397.3,1541.2 2392.5,1537.7 2387.7,1541.2 2389.6,1535.6 2384.8,1532.1 2390.7,1532.1" class="st"/>
<polygon points="2403.7,1482.6 2405.5,1488.2 2411.4,1488.2 2406.6,1491.7 2408.4,1497.3 2403.7,1493.8 2398.9,1497.3 2400.7,1491.7 2396.0,1488.2 2401.9,1488.2" class="st"/>
<polygon points="2414.8,1295.0 2416.7,1300.6 2422.5,1300.6 2417.8,1304.1 2419.6,1309.7 2414.8,1306.2 2410.1,1309.7 2411.9,1304.1 2407.1,1300.6 2413.0,1300.6" class="st"/>
<rect x="2306.5" y="44.5" width="152" height="89" fill="#fff" stroke="#202020" stroke-width="3"/>
<rect x="2308" y="46" width="149" height="1" fill="#202020"/>
<rect x="2343" y="62.5" width="12" height="12" class="sq"/>
<polygon points="2349.0,102.2 2350.8,107.8 2356.7,107.8 2351.9,111.3 2353.8,116.9 2349.0,113.4 2344.2,116.9 2346.1,111.3 2341.3,107.8 2347.2,107.8" class="st"/>
<text x="2390" y="82" class="lg">start</text>
<text x="2389.5" y="123" class="lg">end</text>
</svg>
</body></html>
